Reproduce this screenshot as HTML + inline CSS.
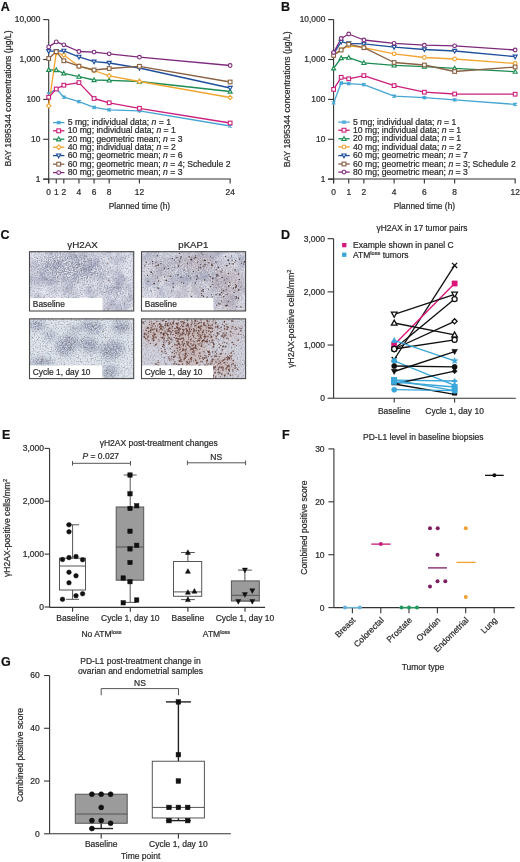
<!DOCTYPE html>
<html><head><meta charset="utf-8"><title>Figure</title>
<style>html,body{margin:0;padding:0;background:#fff;} svg{display:block;}</style>
</head><body>
<svg width="520" height="862" viewBox="0 0 520 862" font-family='"Liberation Sans", Arial, sans-serif'>
<defs>
<filter id="lowA" x="0" y="0" width="100%" height="100%" color-interpolation-filters="sRGB">
 <feTurbulence type="fractalNoise" baseFrequency="0.08" numOctaves="3" seed="2"/>
 <feColorMatrix type="matrix" values="0 0 0 0 0.63  0 0 0 0 0.64  0 0 0 0 0.74  1.6 0 0 0 -0.62"/>
</filter>
<filter id="lowC" x="0" y="0" width="100%" height="100%" color-interpolation-filters="sRGB">
 <feTurbulence type="fractalNoise" baseFrequency="0.07" numOctaves="3" seed="21"/>
 <feColorMatrix type="matrix" values="0 0 0 0 0.55  0 0 0 0 0.59  0 0 0 0 0.66  3.0 0 0 0 -1.35"/>
</filter>
<filter id="hiA" x="0" y="0" width="100%" height="100%" color-interpolation-filters="sRGB">
 <feTurbulence type="fractalNoise" baseFrequency="0.7" numOctaves="2" seed="4"/>
 <feColorMatrix type="matrix" values="0 0 0 0 0.55  0 0 0 0 0.565  0 0 0 0 0.64  2.1 0 0 0 -0.98"/>
 <feGaussianBlur stdDeviation="0.4"/>
</filter>
<filter id="nestC" x="0" y="0" width="100%" height="100%" color-interpolation-filters="sRGB">
 <feTurbulence type="fractalNoise" baseFrequency="0.8" numOctaves="2" seed="41" result="h"/>
 <feColorMatrix in="h" type="matrix" values="0 0 0 0 0.36  0 0 0 0 0.40  0 0 0 0 0.50  3.0 0 0 0 -1.20" result="sp"/>
 <feTurbulence type="fractalNoise" baseFrequency="0.07" numOctaves="3" seed="21" result="l"/>
 <feColorMatrix in="l" type="matrix" values="0 0 0 0 0  0 0 0 0 0  0 0 0 0 0  5 0 0 0 -2.3" result="m"/>
 <feComposite in="sp" in2="m" operator="in"/>
 <feGaussianBlur stdDeviation="0.3"/>
</filter>
<filter id="nestS" x="0" y="0" width="100%" height="100%" color-interpolation-filters="sRGB">
 <feTurbulence type="fractalNoise" baseFrequency="0.8" numOctaves="2" seed="43"/>
 <feColorMatrix type="matrix" values="0 0 0 0 0.40  0 0 0 0 0.43  0 0 0 0 0.54  3.0 0 0 0 -1.05"/>
 <feGaussianBlur stdDeviation="0.3"/>
</filter>
<filter id="bl3" x="-50%" y="-50%" width="200%" height="200%"><feGaussianBlur stdDeviation="2.6"/></filter>
<mask id="mC" maskUnits="userSpaceOnUse" x="29" y="318" width="106" height="62">
 <g filter="url(#bl3)" fill="#fff">
  <ellipse cx="37" cy="325" rx="8" ry="5"/>
  <ellipse cx="67" cy="345" rx="12" ry="9" transform="rotate(-30 67 345)"/>
  <ellipse cx="89" cy="345" rx="10" ry="7" transform="rotate(20 89 345)"/>
  <ellipse cx="112" cy="350" rx="12" ry="9" transform="rotate(-20 112 350)"/>
  <ellipse cx="92" cy="327" rx="11" ry="6" transform="rotate(10 92 327)"/>
  <ellipse cx="121" cy="327" rx="9" ry="6"/>
  <ellipse cx="42" cy="362" rx="12" ry="4"/>
  <ellipse cx="110" cy="372" rx="8" ry="6"/>
  <ellipse cx="50" cy="336" rx="6" ry="5" fill-opacity="0.7"/>
  <ellipse cx="75" cy="329" rx="6" ry="4" fill-opacity="0.7"/>
 </g>
</mask>
<mask id="mA" maskUnits="userSpaceOnUse" x="29" y="251" width="106" height="61">
 <g filter="url(#bl6)" fill="#fff">
  <ellipse cx="70" cy="268" rx="38" ry="15" fill-opacity="0.8"/>
  <ellipse cx="115" cy="290" rx="14" ry="10" fill-opacity="0.6"/>
 </g>
</mask>
<mask id="mB2" maskUnits="userSpaceOnUse" x="141" y="251" width="105" height="61">
 <g filter="url(#bl6)" fill="#fff">
  <ellipse cx="195" cy="268" rx="30" ry="14" fill-opacity="0.7"/>
  <ellipse cx="228" cy="290" rx="14" ry="16" fill-opacity="0.7"/>
  <ellipse cx="160" cy="265" rx="14" ry="10" fill-opacity="0.5"/>
 </g>
</mask>
<filter id="dotsB" x="0" y="0" width="100%" height="100%" color-interpolation-filters="sRGB">
 <feTurbulence type="fractalNoise" baseFrequency="0.85" numOctaves="1" seed="9"/>
 <feColorMatrix type="matrix" values="0 0 0 0 0.32  0 0 0 0 0.21  0 0 0 0 0.19  9 0 0 0 -4.85"/>
 <feGaussianBlur stdDeviation="0.35"/>
</filter>
<filter id="dotsD" x="0" y="0" width="100%" height="100%" color-interpolation-filters="sRGB">
 <feTurbulence type="fractalNoise" baseFrequency="0.85" numOctaves="1" seed="13"/>
 <feColorMatrix type="matrix" values="0 0 0 0 0.42  0 0 0 0 0.27  0 0 0 0 0.23  7 0 0 0 -3.85"/>
 <feGaussianBlur stdDeviation="0.35"/>
</filter>
<filter id="bl4" x="-50%" y="-50%" width="200%" height="200%"><feGaussianBlur stdDeviation="4"/></filter>
<filter id="bl6" x="-50%" y="-50%" width="200%" height="200%"><feGaussianBlur stdDeviation="6"/></filter>
<clipPath id="c1"><rect x="29.5" y="251.7" width="104.2" height="59.3"/></clipPath>
<mask id="mB" maskUnits="userSpaceOnUse" x="141" y="251" width="105" height="61">
 <g filter="url(#bl4)" fill="#fff">
  <ellipse cx="196" cy="262" rx="20" ry="9" fill-opacity="0.9"/>
  <ellipse cx="228" cy="282" rx="16" ry="15" fill-opacity="0.9"/>
  <ellipse cx="228" cy="305" rx="10" ry="8" fill-opacity="0.9"/>
  <ellipse cx="160" cy="270" rx="14" ry="12" fill-opacity="0.45"/>
  <ellipse cx="190" cy="290" rx="16" ry="8" fill-opacity="0.45"/>
 </g>
</mask>
<mask id="mD" maskUnits="userSpaceOnUse" x="141" y="318" width="105" height="61">
 <g filter="url(#bl4)" fill="#fff">
  <ellipse cx="155" cy="332" rx="13" ry="11"/>
  <ellipse cx="190" cy="345" rx="17" ry="24"/>
  <ellipse cx="178" cy="328" rx="10" ry="8"/>
  <ellipse cx="222" cy="365" rx="12" ry="10"/>
  <ellipse cx="205" cy="330" rx="10" ry="12"/>
  <ellipse cx="232" cy="333" rx="10" ry="10" fill-opacity="0.5"/>
 </g>
</mask>
</defs>
<style>text{stroke:#2b2b2b;stroke-width:0.22px;paint-order:stroke;}</style>
<rect width="520" height="862" fill="#ffffff"/>
<text x="0.70" y="11.00" font-size="12.5" text-anchor="start" font-weight="bold" fill="#111111" >A</text>
<line x1="48.70" y1="19.40" x2="48.70" y2="183.20" stroke="#333333" stroke-width="1.1" />
<line x1="43.20" y1="179.20" x2="48.70" y2="179.20" stroke="#333333" stroke-width="1.1" />
<text x="40.40" y="181.80" font-size="8.4" text-anchor="end" font-weight="normal" fill="#2b2b2b" >1</text>
<line x1="43.20" y1="139.30" x2="48.70" y2="139.30" stroke="#333333" stroke-width="1.1" />
<text x="40.40" y="141.90" font-size="8.4" text-anchor="end" font-weight="normal" fill="#2b2b2b" >10</text>
<line x1="43.20" y1="99.40" x2="48.70" y2="99.40" stroke="#333333" stroke-width="1.1" />
<text x="40.40" y="102.00" font-size="8.4" text-anchor="end" font-weight="normal" fill="#2b2b2b" >100</text>
<line x1="43.20" y1="59.50" x2="48.70" y2="59.50" stroke="#333333" stroke-width="1.1" />
<text x="40.40" y="62.10" font-size="8.4" text-anchor="end" font-weight="normal" fill="#2b2b2b" >1,000</text>
<line x1="43.20" y1="19.60" x2="48.70" y2="19.60" stroke="#333333" stroke-width="1.1" />
<text x="40.40" y="22.20" font-size="8.4" text-anchor="end" font-weight="normal" fill="#2b2b2b" >10,000</text>
<line x1="43.20" y1="179.00" x2="230.64" y2="179.00" stroke="#333333" stroke-width="1.1" />
<line x1="48.70" y1="179.00" x2="48.70" y2="183.40" stroke="#333333" stroke-width="1.1" />
<text x="48.70" y="194.50" font-size="8.4" text-anchor="middle" font-weight="normal" fill="#2b2b2b" >0</text>
<line x1="56.26" y1="179.00" x2="56.26" y2="183.40" stroke="#333333" stroke-width="1.1" />
<text x="56.26" y="194.50" font-size="8.4" text-anchor="middle" font-weight="normal" fill="#2b2b2b" >1</text>
<line x1="63.82" y1="179.00" x2="63.82" y2="183.40" stroke="#333333" stroke-width="1.1" />
<text x="63.82" y="194.50" font-size="8.4" text-anchor="middle" font-weight="normal" fill="#2b2b2b" >2</text>
<line x1="78.94" y1="179.00" x2="78.94" y2="183.40" stroke="#333333" stroke-width="1.1" />
<text x="78.94" y="194.50" font-size="8.4" text-anchor="middle" font-weight="normal" fill="#2b2b2b" >4</text>
<line x1="94.06" y1="179.00" x2="94.06" y2="183.40" stroke="#333333" stroke-width="1.1" />
<text x="94.06" y="194.50" font-size="8.4" text-anchor="middle" font-weight="normal" fill="#2b2b2b" >6</text>
<line x1="109.18" y1="179.00" x2="109.18" y2="183.40" stroke="#333333" stroke-width="1.1" />
<text x="109.18" y="194.50" font-size="8.4" text-anchor="middle" font-weight="normal" fill="#2b2b2b" >8</text>
<line x1="139.42" y1="179.00" x2="139.42" y2="183.40" stroke="#333333" stroke-width="1.1" />
<text x="139.42" y="194.50" font-size="8.4" text-anchor="middle" font-weight="normal" fill="#2b2b2b" >12</text>
<line x1="230.14" y1="179.00" x2="230.14" y2="183.40" stroke="#333333" stroke-width="1.1" />
<text x="230.14" y="194.50" font-size="8.4" text-anchor="middle" font-weight="normal" fill="#2b2b2b" >24</text>
<text x="139.42" y="209.30" font-size="8.4" text-anchor="middle" font-weight="normal" fill="#2b2b2b" >Planned time (h)</text>
<text x="0.00" y="0.00" font-size="8.65" text-anchor="middle" font-weight="normal" fill="#2b2b2b" transform="translate(11.00,98.5) rotate(-90)">BAY 1895344 concentrations (μg/L)</text>
<polyline points="48.70,94.00 56.26,88.70 63.82,97.20 78.94,101.60 94.06,107.30 109.18,109.80 139.42,110.80 230.14,126.00" fill="none" stroke="#45a6d3" stroke-width="1.3" stroke-linejoin="round"/>
<polyline points="48.70,97.20 56.26,89.00 63.82,85.20 78.94,82.60 94.06,98.50 109.18,102.80 139.42,108.30 230.14,123.00" fill="none" stroke="#cc1f7d" stroke-width="1.3" stroke-linejoin="round"/>
<polyline points="48.70,69.80 56.26,70.00 63.82,73.30 78.94,76.70 94.06,80.00 109.18,80.40 139.42,81.50 230.14,91.50" fill="none" stroke="#1b8c52" stroke-width="1.3" stroke-linejoin="round"/>
<polyline points="48.70,105.80 56.26,52.70 63.82,55.00 78.94,66.20 94.06,70.50 109.18,75.80 139.42,81.50 230.14,97.50" fill="none" stroke="#f2a531" stroke-width="1.3" stroke-linejoin="round"/>
<polyline points="48.70,51.20 56.26,51.20 63.82,50.80 78.94,56.90 94.06,61.70 109.18,63.00 139.42,68.00 230.14,88.00" fill="none" stroke="#1f4f9c" stroke-width="1.3" stroke-linejoin="round"/>
<polyline points="48.70,58.50 56.26,51.70 63.82,60.80 78.94,66.20 94.06,70.00 109.18,68.50 139.42,66.30 230.14,82.00" fill="none" stroke="#8a6143" stroke-width="1.3" stroke-linejoin="round"/>
<polyline points="48.70,46.90 56.26,41.90 63.82,44.80 78.94,51.50 94.06,52.10 109.18,53.80 139.42,57.20 230.14,65.50" fill="none" stroke="#7e2a7c" stroke-width="1.3" stroke-linejoin="round"/>
<path d="M46.85,92.52L50.55,95.48M50.55,92.52L46.85,95.48M48.70,92.15L48.70,95.85" stroke="#45a6d3" stroke-width="1.1" fill="none"/>
<path d="M54.41,87.22L58.11,90.18M58.11,87.22L54.41,90.18M56.26,86.85L56.26,90.55" stroke="#45a6d3" stroke-width="1.1" fill="none"/>
<path d="M61.97,95.72L65.67,98.68M65.67,95.72L61.97,98.68M63.82,95.35L63.82,99.05" stroke="#45a6d3" stroke-width="1.1" fill="none"/>
<path d="M77.09,100.12L80.79,103.08M80.79,100.12L77.09,103.08M78.94,99.75L78.94,103.45" stroke="#45a6d3" stroke-width="1.1" fill="none"/>
<path d="M92.21,105.82L95.91,108.78M95.91,105.82L92.21,108.78M94.06,105.45L94.06,109.15" stroke="#45a6d3" stroke-width="1.1" fill="none"/>
<path d="M107.33,108.32L111.03,111.28M111.03,108.32L107.33,111.28M109.18,107.95L109.18,111.65" stroke="#45a6d3" stroke-width="1.1" fill="none"/>
<path d="M137.57,109.32L141.27,112.28M141.27,109.32L137.57,112.28M139.42,108.95L139.42,112.65" stroke="#45a6d3" stroke-width="1.1" fill="none"/>
<path d="M228.29,124.52L231.99,127.48M231.99,124.52L228.29,127.48M230.14,124.15L230.14,127.85" stroke="#45a6d3" stroke-width="1.1" fill="none"/>
<rect x="46.85" y="95.35" width="3.70" height="3.70" fill="white" stroke="#cc1f7d" stroke-width="1.1"/>
<rect x="54.41" y="87.15" width="3.70" height="3.70" fill="white" stroke="#cc1f7d" stroke-width="1.1"/>
<rect x="61.97" y="83.35" width="3.70" height="3.70" fill="white" stroke="#cc1f7d" stroke-width="1.1"/>
<rect x="77.09" y="80.75" width="3.70" height="3.70" fill="white" stroke="#cc1f7d" stroke-width="1.1"/>
<rect x="92.21" y="96.65" width="3.70" height="3.70" fill="white" stroke="#cc1f7d" stroke-width="1.1"/>
<rect x="107.33" y="100.95" width="3.70" height="3.70" fill="white" stroke="#cc1f7d" stroke-width="1.1"/>
<rect x="137.57" y="106.45" width="3.70" height="3.70" fill="white" stroke="#cc1f7d" stroke-width="1.1"/>
<rect x="228.29" y="121.15" width="3.70" height="3.70" fill="white" stroke="#cc1f7d" stroke-width="1.1"/>
<polygon points="48.70,67.67 50.73,71.40 46.67,71.40" fill="white" stroke="#1b8c52" stroke-width="1.1" stroke-linejoin="miter"/>
<polygon points="56.26,67.87 58.30,71.60 54.23,71.60" fill="white" stroke="#1b8c52" stroke-width="1.1" stroke-linejoin="miter"/>
<polygon points="63.82,71.17 65.86,74.90 61.78,74.90" fill="white" stroke="#1b8c52" stroke-width="1.1" stroke-linejoin="miter"/>
<polygon points="78.94,74.57 80.97,78.30 76.91,78.30" fill="white" stroke="#1b8c52" stroke-width="1.1" stroke-linejoin="miter"/>
<polygon points="94.06,77.87 96.09,81.60 92.03,81.60" fill="white" stroke="#1b8c52" stroke-width="1.1" stroke-linejoin="miter"/>
<polygon points="109.18,78.27 111.22,82.00 107.15,82.00" fill="white" stroke="#1b8c52" stroke-width="1.1" stroke-linejoin="miter"/>
<polygon points="139.42,79.37 141.46,83.10 137.39,83.10" fill="white" stroke="#1b8c52" stroke-width="1.1" stroke-linejoin="miter"/>
<polygon points="230.14,89.37 232.17,93.10 228.10,93.10" fill="white" stroke="#1b8c52" stroke-width="1.1" stroke-linejoin="miter"/>
<polygon points="48.70,103.58 50.92,105.80 48.70,108.02 46.48,105.80" fill="white" stroke="#f2a531" stroke-width="1.1"/>
<polygon points="56.26,50.48 58.48,52.70 56.26,54.92 54.04,52.70" fill="white" stroke="#f2a531" stroke-width="1.1"/>
<polygon points="63.82,52.78 66.04,55.00 63.82,57.22 61.60,55.00" fill="white" stroke="#f2a531" stroke-width="1.1"/>
<polygon points="78.94,63.98 81.16,66.20 78.94,68.42 76.72,66.20" fill="white" stroke="#f2a531" stroke-width="1.1"/>
<polygon points="94.06,68.28 96.28,70.50 94.06,72.72 91.84,70.50" fill="white" stroke="#f2a531" stroke-width="1.1"/>
<polygon points="109.18,73.58 111.40,75.80 109.18,78.02 106.96,75.80" fill="white" stroke="#f2a531" stroke-width="1.1"/>
<polygon points="139.42,79.28 141.64,81.50 139.42,83.72 137.20,81.50" fill="white" stroke="#f2a531" stroke-width="1.1"/>
<polygon points="230.14,95.28 232.36,97.50 230.14,99.72 227.92,97.50" fill="white" stroke="#f2a531" stroke-width="1.1"/>
<polygon points="48.70,53.33 50.73,49.60 46.67,49.60" fill="white" stroke="#1f4f9c" stroke-width="1.1" stroke-linejoin="miter"/>
<polygon points="56.26,53.33 58.30,49.60 54.23,49.60" fill="white" stroke="#1f4f9c" stroke-width="1.1" stroke-linejoin="miter"/>
<polygon points="63.82,52.93 65.86,49.20 61.78,49.20" fill="white" stroke="#1f4f9c" stroke-width="1.1" stroke-linejoin="miter"/>
<polygon points="78.94,59.03 80.97,55.30 76.91,55.30" fill="white" stroke="#1f4f9c" stroke-width="1.1" stroke-linejoin="miter"/>
<polygon points="94.06,63.83 96.09,60.10 92.03,60.10" fill="white" stroke="#1f4f9c" stroke-width="1.1" stroke-linejoin="miter"/>
<polygon points="109.18,65.13 111.22,61.40 107.15,61.40" fill="white" stroke="#1f4f9c" stroke-width="1.1" stroke-linejoin="miter"/>
<polygon points="139.42,70.13 141.46,66.40 137.39,66.40" fill="white" stroke="#1f4f9c" stroke-width="1.1" stroke-linejoin="miter"/>
<polygon points="230.14,90.13 232.17,86.40 228.10,86.40" fill="white" stroke="#1f4f9c" stroke-width="1.1" stroke-linejoin="miter"/>
<rect x="46.85" y="56.65" width="3.70" height="3.70" fill="white" stroke="#8a6143" stroke-width="1.1"/>
<rect x="54.41" y="49.85" width="3.70" height="3.70" fill="white" stroke="#8a6143" stroke-width="1.1"/>
<rect x="61.97" y="58.95" width="3.70" height="3.70" fill="white" stroke="#8a6143" stroke-width="1.1"/>
<rect x="77.09" y="64.35" width="3.70" height="3.70" fill="white" stroke="#8a6143" stroke-width="1.1"/>
<rect x="92.21" y="68.15" width="3.70" height="3.70" fill="white" stroke="#8a6143" stroke-width="1.1"/>
<rect x="107.33" y="66.65" width="3.70" height="3.70" fill="white" stroke="#8a6143" stroke-width="1.1"/>
<rect x="137.57" y="64.45" width="3.70" height="3.70" fill="white" stroke="#8a6143" stroke-width="1.1"/>
<rect x="228.29" y="80.15" width="3.70" height="3.70" fill="white" stroke="#8a6143" stroke-width="1.1"/>
<circle cx="48.70" cy="46.90" r="1.85" fill="white" stroke="#7e2a7c" stroke-width="1.1"/>
<circle cx="56.26" cy="41.90" r="1.85" fill="white" stroke="#7e2a7c" stroke-width="1.1"/>
<circle cx="63.82" cy="44.80" r="1.85" fill="white" stroke="#7e2a7c" stroke-width="1.1"/>
<circle cx="78.94" cy="51.50" r="1.85" fill="white" stroke="#7e2a7c" stroke-width="1.1"/>
<circle cx="94.06" cy="52.10" r="1.85" fill="white" stroke="#7e2a7c" stroke-width="1.1"/>
<circle cx="109.18" cy="53.80" r="1.85" fill="white" stroke="#7e2a7c" stroke-width="1.1"/>
<circle cx="139.42" cy="57.20" r="1.85" fill="white" stroke="#7e2a7c" stroke-width="1.1"/>
<circle cx="230.14" cy="65.50" r="1.85" fill="white" stroke="#7e2a7c" stroke-width="1.1"/>
<line x1="53.00" y1="122.60" x2="64.40" y2="122.60" stroke="#45a6d3" stroke-width="1.3" />
<path d="M56.80,121.08L60.60,124.12M60.60,121.08L56.80,124.12M58.70,120.70L58.70,124.50" stroke="#45a6d3" stroke-width="1.1" fill="none"/>
<text x="67.70" y="125.20" font-size="8.65" text-anchor="start" font-weight="normal" fill="#2b2b2b" >5 mg; individual data; <tspan font-style="italic">n</tspan> = 1</text>
<line x1="53.00" y1="130.80" x2="64.40" y2="130.80" stroke="#cc1f7d" stroke-width="1.3" />
<rect x="56.80" y="128.90" width="3.80" height="3.80" fill="white" stroke="#cc1f7d" stroke-width="1.1"/>
<text x="67.70" y="133.40" font-size="8.65" text-anchor="start" font-weight="normal" fill="#2b2b2b" >10 mg; individual data; <tspan font-style="italic">n</tspan> = 1</text>
<line x1="53.00" y1="139.20" x2="64.40" y2="139.20" stroke="#1b8c52" stroke-width="1.3" />
<polygon points="58.70,137.01 60.79,140.84 56.61,140.84" fill="white" stroke="#1b8c52" stroke-width="1.1" stroke-linejoin="miter"/>
<text x="67.70" y="141.80" font-size="8.65" text-anchor="start" font-weight="normal" fill="#2b2b2b" >20 mg; geometric mean; <tspan font-style="italic">n</tspan> = 3</text>
<line x1="53.00" y1="147.20" x2="64.40" y2="147.20" stroke="#f2a531" stroke-width="1.3" />
<polygon points="58.70,144.92 60.98,147.20 58.70,149.48 56.42,147.20" fill="white" stroke="#f2a531" stroke-width="1.1"/>
<text x="67.70" y="149.80" font-size="8.65" text-anchor="start" font-weight="normal" fill="#2b2b2b" >40 mg; individual data; <tspan font-style="italic">n</tspan> = 2</text>
<line x1="53.00" y1="155.60" x2="64.40" y2="155.60" stroke="#1f4f9c" stroke-width="1.3" />
<polygon points="58.70,157.78 60.79,153.96 56.61,153.96" fill="white" stroke="#1f4f9c" stroke-width="1.1" stroke-linejoin="miter"/>
<text x="67.70" y="158.20" font-size="8.65" text-anchor="start" font-weight="normal" fill="#2b2b2b" >60 mg; geometric mean; <tspan font-style="italic">n</tspan> = 6</text>
<line x1="53.00" y1="164.20" x2="64.40" y2="164.20" stroke="#8a6143" stroke-width="1.3" />
<rect x="56.80" y="162.30" width="3.80" height="3.80" fill="white" stroke="#8a6143" stroke-width="1.1"/>
<text x="67.70" y="166.80" font-size="8.65" text-anchor="start" font-weight="normal" fill="#2b2b2b" >60 mg; geometric mean; <tspan font-style="italic">n</tspan> = 4; Schedule 2</text>
<line x1="53.00" y1="172.60" x2="64.40" y2="172.60" stroke="#7e2a7c" stroke-width="1.3" />
<circle cx="58.70" cy="172.60" r="1.90" fill="white" stroke="#7e2a7c" stroke-width="1.1"/>
<text x="67.70" y="175.20" font-size="8.65" text-anchor="start" font-weight="normal" fill="#2b2b2b" >80 mg; geometric mean; <tspan font-style="italic">n</tspan> = 3</text>
<text x="280.90" y="11.00" font-size="12.5" text-anchor="start" font-weight="bold" fill="#111111" >B</text>
<line x1="333.60" y1="19.40" x2="333.60" y2="183.20" stroke="#333333" stroke-width="1.1" />
<line x1="328.10" y1="179.20" x2="333.60" y2="179.20" stroke="#333333" stroke-width="1.1" />
<text x="325.30" y="181.80" font-size="8.4" text-anchor="end" font-weight="normal" fill="#2b2b2b" >1</text>
<line x1="328.10" y1="139.30" x2="333.60" y2="139.30" stroke="#333333" stroke-width="1.1" />
<text x="325.30" y="141.90" font-size="8.4" text-anchor="end" font-weight="normal" fill="#2b2b2b" >10</text>
<line x1="328.10" y1="99.40" x2="333.60" y2="99.40" stroke="#333333" stroke-width="1.1" />
<text x="325.30" y="102.00" font-size="8.4" text-anchor="end" font-weight="normal" fill="#2b2b2b" >100</text>
<line x1="328.10" y1="59.50" x2="333.60" y2="59.50" stroke="#333333" stroke-width="1.1" />
<text x="325.30" y="62.10" font-size="8.4" text-anchor="end" font-weight="normal" fill="#2b2b2b" >1,000</text>
<line x1="328.10" y1="19.60" x2="333.60" y2="19.60" stroke="#333333" stroke-width="1.1" />
<text x="325.30" y="22.20" font-size="8.4" text-anchor="end" font-weight="normal" fill="#2b2b2b" >10,000</text>
<line x1="328.10" y1="179.00" x2="515.66" y2="179.00" stroke="#333333" stroke-width="1.1" />
<line x1="333.60" y1="179.00" x2="333.60" y2="183.40" stroke="#333333" stroke-width="1.1" />
<text x="333.60" y="194.50" font-size="8.4" text-anchor="middle" font-weight="normal" fill="#2b2b2b" >0</text>
<line x1="348.73" y1="179.00" x2="348.73" y2="183.40" stroke="#333333" stroke-width="1.1" />
<text x="348.73" y="194.50" font-size="8.4" text-anchor="middle" font-weight="normal" fill="#2b2b2b" >1</text>
<line x1="363.86" y1="179.00" x2="363.86" y2="183.40" stroke="#333333" stroke-width="1.1" />
<text x="363.86" y="194.50" font-size="8.4" text-anchor="middle" font-weight="normal" fill="#2b2b2b" >2</text>
<line x1="394.12" y1="179.00" x2="394.12" y2="183.40" stroke="#333333" stroke-width="1.1" />
<text x="394.12" y="194.50" font-size="8.4" text-anchor="middle" font-weight="normal" fill="#2b2b2b" >4</text>
<line x1="424.38" y1="179.00" x2="424.38" y2="183.40" stroke="#333333" stroke-width="1.1" />
<text x="424.38" y="194.50" font-size="8.4" text-anchor="middle" font-weight="normal" fill="#2b2b2b" >6</text>
<line x1="454.64" y1="179.00" x2="454.64" y2="183.40" stroke="#333333" stroke-width="1.1" />
<text x="454.64" y="194.50" font-size="8.4" text-anchor="middle" font-weight="normal" fill="#2b2b2b" >8</text>
<line x1="515.16" y1="179.00" x2="515.16" y2="183.40" stroke="#333333" stroke-width="1.1" />
<text x="515.16" y="194.50" font-size="8.4" text-anchor="middle" font-weight="normal" fill="#2b2b2b" >12</text>
<text x="424.38" y="209.30" font-size="8.4" text-anchor="middle" font-weight="normal" fill="#2b2b2b" >Planned time (h)</text>
<text x="0.00" y="0.00" font-size="8.65" text-anchor="middle" font-weight="normal" fill="#2b2b2b" transform="translate(290.00,99.3) rotate(-90)">BAY 1895344 concentrations (μg/L)</text>
<polyline points="333.60,102.90 341.17,83.00 348.73,83.60 363.86,84.60 394.12,96.20 424.38,97.70 454.64,99.80 515.16,104.40" fill="none" stroke="#45a6d3" stroke-width="1.3" stroke-linejoin="round"/>
<polyline points="333.60,89.40 341.17,77.30 348.73,78.80 363.86,75.60 394.12,85.60 424.38,92.20 454.64,94.00 515.16,94.20" fill="none" stroke="#cc1f7d" stroke-width="1.3" stroke-linejoin="round"/>
<polyline points="333.60,68.30 341.17,58.00 348.73,57.70 363.86,62.90 394.12,65.40 424.38,66.60 454.64,68.30 515.16,71.70" fill="none" stroke="#1b8c52" stroke-width="1.3" stroke-linejoin="round"/>
<polyline points="333.60,55.00 341.17,49.60 348.73,45.80 363.86,47.70 394.12,53.80 424.38,57.50 454.64,59.00 515.16,63.50" fill="none" stroke="#f2a531" stroke-width="1.3" stroke-linejoin="round"/>
<polyline points="333.60,53.80 341.17,41.90 348.73,43.30 363.86,43.80 394.12,47.10 424.38,49.50 454.64,51.00 515.16,56.70" fill="none" stroke="#1f4f9c" stroke-width="1.3" stroke-linejoin="round"/>
<polyline points="333.60,55.40 341.17,50.00 348.73,44.20 363.86,47.70 394.12,62.50 424.38,65.00 454.64,71.50 515.16,67.00" fill="none" stroke="#8a6143" stroke-width="1.3" stroke-linejoin="round"/>
<polyline points="333.60,52.50 341.17,38.50 348.73,34.00 363.86,40.00 394.12,43.30 424.38,45.20 454.64,45.80 515.16,50.00" fill="none" stroke="#7e2a7c" stroke-width="1.3" stroke-linejoin="round"/>
<path d="M331.75,101.42L335.45,104.38M335.45,101.42L331.75,104.38M333.60,101.05L333.60,104.75" stroke="#45a6d3" stroke-width="1.1" fill="none"/>
<path d="M339.31,81.52L343.02,84.48M343.02,81.52L339.31,84.48M341.17,81.15L341.17,84.85" stroke="#45a6d3" stroke-width="1.1" fill="none"/>
<path d="M346.88,82.12L350.58,85.08M350.58,82.12L346.88,85.08M348.73,81.75L348.73,85.45" stroke="#45a6d3" stroke-width="1.1" fill="none"/>
<path d="M362.01,83.12L365.71,86.08M365.71,83.12L362.01,86.08M363.86,82.75L363.86,86.45" stroke="#45a6d3" stroke-width="1.1" fill="none"/>
<path d="M392.27,94.72L395.97,97.68M395.97,94.72L392.27,97.68M394.12,94.35L394.12,98.05" stroke="#45a6d3" stroke-width="1.1" fill="none"/>
<path d="M422.53,96.22L426.23,99.18M426.23,96.22L422.53,99.18M424.38,95.85L424.38,99.55" stroke="#45a6d3" stroke-width="1.1" fill="none"/>
<path d="M452.79,98.32L456.49,101.28M456.49,98.32L452.79,101.28M454.64,97.95L454.64,101.65" stroke="#45a6d3" stroke-width="1.1" fill="none"/>
<path d="M513.31,102.92L517.01,105.88M517.01,102.92L513.31,105.88M515.16,102.55L515.16,106.25" stroke="#45a6d3" stroke-width="1.1" fill="none"/>
<rect x="331.75" y="87.55" width="3.70" height="3.70" fill="white" stroke="#cc1f7d" stroke-width="1.1"/>
<rect x="339.31" y="75.45" width="3.70" height="3.70" fill="white" stroke="#cc1f7d" stroke-width="1.1"/>
<rect x="346.88" y="76.95" width="3.70" height="3.70" fill="white" stroke="#cc1f7d" stroke-width="1.1"/>
<rect x="362.01" y="73.75" width="3.70" height="3.70" fill="white" stroke="#cc1f7d" stroke-width="1.1"/>
<rect x="392.27" y="83.75" width="3.70" height="3.70" fill="white" stroke="#cc1f7d" stroke-width="1.1"/>
<rect x="422.53" y="90.35" width="3.70" height="3.70" fill="white" stroke="#cc1f7d" stroke-width="1.1"/>
<rect x="452.79" y="92.15" width="3.70" height="3.70" fill="white" stroke="#cc1f7d" stroke-width="1.1"/>
<rect x="513.31" y="92.35" width="3.70" height="3.70" fill="white" stroke="#cc1f7d" stroke-width="1.1"/>
<polygon points="333.60,66.17 335.64,69.90 331.56,69.90" fill="white" stroke="#1b8c52" stroke-width="1.1" stroke-linejoin="miter"/>
<polygon points="341.17,55.87 343.20,59.60 339.13,59.60" fill="white" stroke="#1b8c52" stroke-width="1.1" stroke-linejoin="miter"/>
<polygon points="348.73,55.57 350.77,59.30 346.69,59.30" fill="white" stroke="#1b8c52" stroke-width="1.1" stroke-linejoin="miter"/>
<polygon points="363.86,60.77 365.90,64.50 361.82,64.50" fill="white" stroke="#1b8c52" stroke-width="1.1" stroke-linejoin="miter"/>
<polygon points="394.12,63.27 396.16,67.00 392.08,67.00" fill="white" stroke="#1b8c52" stroke-width="1.1" stroke-linejoin="miter"/>
<polygon points="424.38,64.47 426.42,68.20 422.34,68.20" fill="white" stroke="#1b8c52" stroke-width="1.1" stroke-linejoin="miter"/>
<polygon points="454.64,66.17 456.68,69.90 452.61,69.90" fill="white" stroke="#1b8c52" stroke-width="1.1" stroke-linejoin="miter"/>
<polygon points="515.16,69.57 517.20,73.30 513.13,73.30" fill="white" stroke="#1b8c52" stroke-width="1.1" stroke-linejoin="miter"/>
<circle cx="333.60" cy="55.00" r="1.85" fill="white" stroke="#f2a531" stroke-width="1.1"/>
<circle cx="341.17" cy="49.60" r="1.85" fill="white" stroke="#f2a531" stroke-width="1.1"/>
<circle cx="348.73" cy="45.80" r="1.85" fill="white" stroke="#f2a531" stroke-width="1.1"/>
<circle cx="363.86" cy="47.70" r="1.85" fill="white" stroke="#f2a531" stroke-width="1.1"/>
<circle cx="394.12" cy="53.80" r="1.85" fill="white" stroke="#f2a531" stroke-width="1.1"/>
<circle cx="424.38" cy="57.50" r="1.85" fill="white" stroke="#f2a531" stroke-width="1.1"/>
<circle cx="454.64" cy="59.00" r="1.85" fill="white" stroke="#f2a531" stroke-width="1.1"/>
<circle cx="515.16" cy="63.50" r="1.85" fill="white" stroke="#f2a531" stroke-width="1.1"/>
<polygon points="333.60,55.93 335.64,52.20 331.56,52.20" fill="white" stroke="#1f4f9c" stroke-width="1.1" stroke-linejoin="miter"/>
<polygon points="341.17,44.03 343.20,40.30 339.13,40.30" fill="white" stroke="#1f4f9c" stroke-width="1.1" stroke-linejoin="miter"/>
<polygon points="348.73,45.43 350.77,41.70 346.69,41.70" fill="white" stroke="#1f4f9c" stroke-width="1.1" stroke-linejoin="miter"/>
<polygon points="363.86,45.93 365.90,42.20 361.82,42.20" fill="white" stroke="#1f4f9c" stroke-width="1.1" stroke-linejoin="miter"/>
<polygon points="394.12,49.23 396.16,45.50 392.08,45.50" fill="white" stroke="#1f4f9c" stroke-width="1.1" stroke-linejoin="miter"/>
<polygon points="424.38,51.63 426.42,47.90 422.34,47.90" fill="white" stroke="#1f4f9c" stroke-width="1.1" stroke-linejoin="miter"/>
<polygon points="454.64,53.13 456.68,49.40 452.61,49.40" fill="white" stroke="#1f4f9c" stroke-width="1.1" stroke-linejoin="miter"/>
<polygon points="515.16,58.83 517.20,55.10 513.13,55.10" fill="white" stroke="#1f4f9c" stroke-width="1.1" stroke-linejoin="miter"/>
<rect x="331.75" y="53.55" width="3.70" height="3.70" fill="white" stroke="#8a6143" stroke-width="1.1"/>
<rect x="339.31" y="48.15" width="3.70" height="3.70" fill="white" stroke="#8a6143" stroke-width="1.1"/>
<rect x="346.88" y="42.35" width="3.70" height="3.70" fill="white" stroke="#8a6143" stroke-width="1.1"/>
<rect x="362.01" y="45.85" width="3.70" height="3.70" fill="white" stroke="#8a6143" stroke-width="1.1"/>
<rect x="392.27" y="60.65" width="3.70" height="3.70" fill="white" stroke="#8a6143" stroke-width="1.1"/>
<rect x="422.53" y="63.15" width="3.70" height="3.70" fill="white" stroke="#8a6143" stroke-width="1.1"/>
<rect x="452.79" y="69.65" width="3.70" height="3.70" fill="white" stroke="#8a6143" stroke-width="1.1"/>
<rect x="513.31" y="65.15" width="3.70" height="3.70" fill="white" stroke="#8a6143" stroke-width="1.1"/>
<circle cx="333.60" cy="52.50" r="1.85" fill="white" stroke="#7e2a7c" stroke-width="1.1"/>
<circle cx="341.17" cy="38.50" r="1.85" fill="white" stroke="#7e2a7c" stroke-width="1.1"/>
<circle cx="348.73" cy="34.00" r="1.85" fill="white" stroke="#7e2a7c" stroke-width="1.1"/>
<circle cx="363.86" cy="40.00" r="1.85" fill="white" stroke="#7e2a7c" stroke-width="1.1"/>
<circle cx="394.12" cy="43.30" r="1.85" fill="white" stroke="#7e2a7c" stroke-width="1.1"/>
<circle cx="424.38" cy="45.20" r="1.85" fill="white" stroke="#7e2a7c" stroke-width="1.1"/>
<circle cx="454.64" cy="45.80" r="1.85" fill="white" stroke="#7e2a7c" stroke-width="1.1"/>
<circle cx="515.16" cy="50.00" r="1.85" fill="white" stroke="#7e2a7c" stroke-width="1.1"/>
<line x1="338.30" y1="122.10" x2="349.70" y2="122.10" stroke="#45a6d3" stroke-width="1.3" />
<path d="M342.10,120.58L345.90,123.62M345.90,120.58L342.10,123.62M344.00,120.20L344.00,124.00" stroke="#45a6d3" stroke-width="1.1" fill="none"/>
<text x="353.00" y="124.70" font-size="8.65" text-anchor="start" font-weight="normal" fill="#2b2b2b" >5 mg; individual data; <tspan font-style="italic">n</tspan> = 1</text>
<line x1="338.30" y1="130.20" x2="349.70" y2="130.20" stroke="#cc1f7d" stroke-width="1.3" />
<rect x="342.10" y="128.30" width="3.80" height="3.80" fill="white" stroke="#cc1f7d" stroke-width="1.1"/>
<text x="353.00" y="132.80" font-size="8.65" text-anchor="start" font-weight="normal" fill="#2b2b2b" >10 mg; individual data; <tspan font-style="italic">n</tspan> = 1</text>
<line x1="338.30" y1="138.80" x2="349.70" y2="138.80" stroke="#1b8c52" stroke-width="1.3" />
<polygon points="344.00,136.62 346.09,140.44 341.91,140.44" fill="white" stroke="#1b8c52" stroke-width="1.1" stroke-linejoin="miter"/>
<text x="353.00" y="141.40" font-size="8.65" text-anchor="start" font-weight="normal" fill="#2b2b2b" >20 mg; individual data; <tspan font-style="italic">n</tspan> = 1</text>
<line x1="338.30" y1="146.90" x2="349.70" y2="146.90" stroke="#f2a531" stroke-width="1.3" />
<circle cx="344.00" cy="146.90" r="1.90" fill="white" stroke="#f2a531" stroke-width="1.1"/>
<text x="353.00" y="149.50" font-size="8.65" text-anchor="start" font-weight="normal" fill="#2b2b2b" >40 mg; individual data; <tspan font-style="italic">n</tspan> = 2</text>
<line x1="338.30" y1="155.60" x2="349.70" y2="155.60" stroke="#1f4f9c" stroke-width="1.3" />
<polygon points="344.00,157.78 346.09,153.96 341.91,153.96" fill="white" stroke="#1f4f9c" stroke-width="1.1" stroke-linejoin="miter"/>
<text x="353.00" y="158.20" font-size="8.65" text-anchor="start" font-weight="normal" fill="#2b2b2b" >60 mg; geometric mean; <tspan font-style="italic">n</tspan> = 7</text>
<line x1="338.30" y1="164.00" x2="349.70" y2="164.00" stroke="#8a6143" stroke-width="1.3" />
<rect x="342.10" y="162.10" width="3.80" height="3.80" fill="white" stroke="#8a6143" stroke-width="1.1"/>
<text x="353.00" y="166.60" font-size="8.65" text-anchor="start" font-weight="normal" fill="#2b2b2b" >60 mg; geometric mean; <tspan font-style="italic">n</tspan> = 3; Schedule 2</text>
<line x1="338.30" y1="172.10" x2="349.70" y2="172.10" stroke="#7e2a7c" stroke-width="1.3" />
<circle cx="344.00" cy="172.10" r="1.90" fill="white" stroke="#7e2a7c" stroke-width="1.1"/>
<text x="353.00" y="174.70" font-size="8.65" text-anchor="start" font-weight="normal" fill="#2b2b2b" >80 mg; geometric mean; <tspan font-style="italic">n</tspan> = 3</text>
<text x="0.60" y="238.90" font-size="12.5" text-anchor="start" font-weight="bold" fill="#111111" >C</text>
<text x="82.60" y="247.60" font-size="9.8" text-anchor="middle" font-weight="normal" fill="#2b2b2b" >γH2AX</text>
<text x="193.30" y="247.60" font-size="9.6" text-anchor="middle" font-weight="normal" fill="#2b2b2b" >pKAP1</text>
<rect x="29.5" y="251.7" width="104.2" height="59.3" fill="#e5e6ef"/>
<rect x="29.5" y="251.7" width="104.2" height="59.3" filter="url(#lowA)"/>
<rect x="29.5" y="251.7" width="104.2" height="59.3" filter="url(#hiA)"/>
<rect x="29.5" y="251.7" width="104.2" height="59.3" filter="url(#nestS)" mask="url(#mA)" opacity="0.75"/>
<rect x="141.5" y="251.7" width="104.1" height="59.3" fill="#e0e1ea"/>
<rect x="141.5" y="251.7" width="104.1" height="59.3" filter="url(#lowA)"/>
<rect x="141.5" y="251.7" width="104.1" height="59.3" filter="url(#hiA)"/>
<rect x="141.5" y="251.7" width="104.1" height="59.3" filter="url(#nestS)" mask="url(#mB2)" opacity="0.7"/>
<rect x="141.5" y="251.7" width="104.1" height="59.3" fill="#c9a9a4" fill-opacity="0.3" mask="url(#mB)"/>
<rect x="29.5" y="318.9" width="104.2" height="59.7" fill="#e0e6ec"/>
<rect x="29.5" y="318.9" width="104.2" height="59.7" fill="#a9b0c6" fill-opacity="0.4" mask="url(#mC)"/>
<rect x="29.5" y="318.9" width="104.2" height="59.7" filter="url(#hiA)"/>
<rect x="29.5" y="318.9" width="104.2" height="59.7" filter="url(#nestS)" mask="url(#mC)" opacity="0.6"/>
<rect x="141.5" y="318.9" width="104.1" height="59.7" fill="#d4d4de"/>
<rect x="141.5" y="318.9" width="104.1" height="59.7" filter="url(#hiA)"/>
<rect x="141.5" y="318.9" width="104.1" height="59.7" fill="#c4a49c" fill-opacity="0.5" mask="url(#mD)"/>
<path d="M97.4 288.0h0M64.1 269.6h0M120.8 287.3h0M90.3 260.6h0M50.8 279.9h0M124.3 303.2h0M58.1 277.0h0" stroke="#6b4a40" stroke-opacity="0.6" stroke-width="0.75" stroke-linecap="round" fill="none"/>
<path d="M84.5 255.9h0M116.5 293.3h0M128.6 301.4h0M110.2 268.1h0M129.2 296.2h0M90.1 266.5h0M76.0 256.0h0M58.7 262.3h0M62.0 298.2h0M58.2 272.4h0M80.8 307.3h0M43.6 297.5h0M42.9 282.0h0M84.7 277.7h0M71.6 292.0h0M83.1 285.3h0M71.9 263.8h0M46.7 279.7h0M31.7 266.6h0M77.1 264.3h0M77.0 267.6h0M73.8 267.4h0M104.7 292.5h0M67.8 273.5h0" stroke="#6b4a40" stroke-opacity="0.6" stroke-width="1.0" stroke-linecap="round" fill="none"/>
<path d="M91.5 269.4h0M117.8 287.9h0M89.0 260.1h0M90.1 287.6h0M75.5 300.9h0M62.8 260.4h0M76.7 256.8h0M54.7 260.6h0M111.6 304.8h0M109.1 280.6h0M84.3 269.2h0M78.8 259.8h0M66.8 288.3h0M84.6 261.7h0M37.5 258.6h0M125.4 258.0h0M78.2 282.2h0M108.5 309.1h0M67.8 269.0h0M114.1 287.3h0M94.4 273.2h0M85.9 256.7h0M79.4 264.7h0M116.3 256.8h0M74.2 273.8h0M97.1 298.9h0M111.2 257.3h0" stroke="#6b4a40" stroke-opacity="0.6" stroke-width="1.25" stroke-linecap="round" fill="none"/>
<path d="M81.0 270.7h0M107.6 263.5h0" stroke="#6b4a40" stroke-opacity="0.6" stroke-width="1.5" stroke-linecap="round" fill="none"/>
<path d="M109.4 339.6h0M116.4 327.2h0M71.1 349.7h0M107.8 344.9h0M79.2 319.9h0" stroke="#6b4a40" stroke-opacity="0.6" stroke-width="0.75" stroke-linecap="round" fill="none"/>
<path d="M38.0 359.6h0M127.4 326.2h0M71.4 344.0h0M95.6 322.7h0M107.1 372.7h0M132.7 349.0h0M111.3 353.4h0M85.9 355.8h0M102.2 342.6h0M81.6 340.7h0M32.8 337.6h0M47.1 361.3h0M92.6 325.6h0M112.5 349.1h0M95.4 342.3h0M38.9 323.0h0M73.8 351.3h0M91.9 358.6h0M40.8 362.5h0M64.2 348.9h0M35.6 322.6h0M108.8 351.8h0M94.1 340.5h0M90.9 329.5h0M63.6 353.8h0M34.6 368.0h0M85.3 324.8h0M111.8 372.9h0M128.8 328.5h0M48.1 327.6h0M94.2 377.2h0" stroke="#6b4a40" stroke-opacity="0.6" stroke-width="1.0" stroke-linecap="round" fill="none"/>
<path d="M116.7 320.8h0M62.4 355.8h0M66.9 340.8h0M122.1 329.1h0M105.8 352.4h0M69.3 342.0h0M129.9 350.1h0M105.7 337.4h0M93.1 327.1h0M99.2 325.6h0M70.5 346.7h0M104.8 348.8h0M69.3 348.2h0M123.6 328.2h0M38.4 329.2h0M36.7 372.4h0M42.5 357.9h0M101.7 371.1h0M62.7 342.5h0" stroke="#6b4a40" stroke-opacity="0.6" stroke-width="1.25" stroke-linecap="round" fill="none"/>
<path d="M41.9 359.5h0M69.1 337.7h0M102.8 331.6h0M74.8 342.5h0M106.5 370.7h0" stroke="#6b4a40" stroke-opacity="0.6" stroke-width="1.5" stroke-linecap="round" fill="none"/>
<path d="M179.3 262.1h0M201.6 253.0h0M198.2 270.5h0M227.0 278.8h0M221.7 289.2h0M238.2 297.6h0M158.8 288.4h0M235.6 284.5h0M151.0 291.0h0M218.2 275.3h0M211.4 294.6h0M192.6 306.5h0M147.5 275.4h0M184.1 270.2h0M174.4 260.0h0M161.2 275.0h0M235.6 287.9h0M233.2 264.8h0M207.2 296.7h0M241.4 263.3h0M200.0 287.3h0M152.6 263.7h0M206.4 308.2h0M195.5 255.4h0M210.6 256.7h0M181.5 282.3h0M208.4 289.2h0M171.7 291.0h0M240.8 287.1h0M236.6 306.6h0M200.3 264.5h0M234.3 262.7h0M218.1 284.9h0M216.2 287.8h0M169.0 276.1h0M231.4 256.1h0M194.2 258.5h0M225.4 283.0h0M209.0 274.7h0M224.6 280.0h0M152.6 273.8h0M187.7 263.5h0M179.4 260.8h0M157.6 277.0h0M175.7 305.8h0M222.1 270.4h0M190.4 278.1h0" stroke="#3e2722" stroke-opacity="0.85" stroke-width="1.0" stroke-linecap="round" fill="none"/>
<path d="M208.8 304.5h0M206.9 298.0h0M217.1 280.1h0M226.0 289.9h0M160.9 263.7h0M166.7 304.6h0M180.8 277.4h0M191.2 259.5h0M173.1 283.3h0M202.9 254.6h0M201.3 293.4h0M235.6 260.7h0M193.3 271.6h0M181.2 256.7h0M218.4 303.2h0M198.8 267.2h0M203.2 266.3h0M229.6 282.4h0M191.6 296.4h0M233.5 288.2h0M152.5 261.4h0M168.3 268.5h0M144.9 265.8h0M183.5 283.2h0M216.7 305.2h0M227.0 265.4h0M180.6 258.2h0M205.0 265.8h0M227.1 294.4h0M238.5 298.4h0M147.7 308.9h0M164.4 268.5h0M228.4 301.5h0M203.1 291.7h0M212.9 284.4h0M216.9 276.6h0M216.2 269.6h0M181.9 306.4h0M179.3 253.4h0M212.7 281.8h0M164.5 276.8h0M148.0 281.4h0M209.0 262.6h0M172.4 258.7h0M197.9 277.7h0M236.4 285.6h0M156.0 262.2h0M232.2 260.2h0M221.4 300.8h0M201.9 295.4h0M243.7 264.1h0M234.0 292.3h0M188.5 276.1h0M212.2 296.9h0M197.3 262.3h0" stroke="#3e2722" stroke-opacity="0.85" stroke-width="1.25" stroke-linecap="round" fill="none"/>
<path d="M236.2 296.7h0M211.8 264.3h0M173.2 287.3h0M197.0 275.9h0M177.0 257.6h0M221.7 292.6h0M195.4 283.0h0M216.1 294.6h0M201.8 290.9h0M170.8 276.2h0M205.4 260.6h0M204.6 279.9h0M196.6 279.3h0M229.6 263.8h0M225.5 256.4h0M223.5 290.8h0M238.5 274.1h0M156.0 266.0h0M175.4 298.5h0M210.5 299.8h0M178.6 266.1h0M178.0 274.8h0M215.9 261.9h0M146.2 262.3h0M225.9 305.8h0M204.9 264.5h0M235.0 269.9h0M203.2 289.8h0M157.9 288.0h0M241.0 307.0h0M222.1 277.6h0M219.8 304.0h0M189.2 256.8h0M233.0 263.8h0M200.6 267.7h0M218.3 267.6h0M239.6 258.9h0M210.2 276.7h0M221.2 271.9h0M239.3 279.4h0M218.6 267.3h0M204.3 260.2h0M205.8 302.0h0M203.0 289.4h0M158.6 281.0h0M203.5 296.2h0M157.4 255.8h0M223.8 296.8h0M236.3 298.3h0M228.4 273.6h0M226.6 265.7h0M210.5 286.8h0" stroke="#3e2722" stroke-opacity="0.85" stroke-width="1.5" stroke-linecap="round" fill="none"/>
<path d="M244.5 261.8h0M228.2 260.0h0M236.0 286.9h0M212.1 265.4h0M166.4 280.3h0M238.7 289.8h0M226.9 305.3h0M151.3 272.2h0M158.2 265.0h0M212.7 278.3h0M228.8 286.1h0M154.1 283.5h0M219.9 294.5h0M191.4 259.4h0M217.0 274.9h0M195.5 257.3h0" stroke="#3e2722" stroke-opacity="0.85" stroke-width="1.75" stroke-linecap="round" fill="none"/>
<path d="M175.5 328.5h0M146.1 344.9h0M185.8 367.7h0M207.8 341.3h0M219.9 328.5h0M171.5 342.1h0M189.6 329.5h0M232.9 375.3h0M195.1 355.6h0M224.1 342.5h0M207.3 323.3h0M158.9 339.5h0M157.8 325.6h0M196.4 328.2h0M213.7 334.9h0M164.9 332.9h0M191.4 357.6h0M163.9 334.3h0M202.4 334.8h0M193.7 350.6h0M154.8 345.4h0M186.5 349.7h0M241.9 325.8h0M235.7 367.3h0M169.8 327.2h0M153.5 329.1h0M193.6 330.0h0M231.5 358.7h0M193.8 331.4h0M169.4 324.9h0M193.9 350.8h0M179.3 344.6h0M173.1 352.1h0M188.4 327.8h0M230.7 332.2h0M182.1 332.7h0M208.4 371.0h0M239.5 328.2h0M242.1 327.9h0M180.6 339.0h0M226.5 367.5h0M190.8 341.4h0M225.5 364.2h0M215.8 338.1h0M186.4 348.4h0M243.6 335.1h0M193.4 360.9h0M162.7 334.1h0M226.3 368.5h0M164.6 341.1h0M198.7 356.8h0M179.6 331.2h0M224.8 375.9h0M229.1 367.9h0M183.3 349.8h0M189.3 330.1h0M194.6 322.1h0M217.5 364.9h0M194.0 341.7h0M210.3 337.9h0M194.8 371.7h0M156.1 374.1h0M222.5 343.1h0M188.7 332.8h0M150.3 372.6h0M207.3 360.2h0M236.0 374.6h0M207.0 336.4h0M197.4 332.3h0M226.3 329.6h0M151.1 371.3h0M214.4 368.7h0M167.7 338.7h0M186.9 331.1h0M213.9 340.2h0M218.3 374.3h0M224.5 342.5h0M190.3 336.8h0M209.5 334.2h0M166.2 364.8h0M199.2 335.1h0M192.8 323.1h0M194.6 347.9h0M189.2 364.0h0M164.1 328.5h0M151.3 370.2h0M215.4 369.4h0M159.3 369.7h0M191.2 353.9h0M200.2 343.1h0M241.1 334.5h0M210.9 342.5h0M153.1 338.5h0M191.6 329.5h0M233.4 327.8h0M206.7 328.0h0M164.7 352.9h0M221.3 361.0h0M225.5 353.6h0M228.6 369.9h0M159.1 341.3h0M195.6 345.6h0M190.1 350.7h0M204.8 352.8h0M205.1 346.9h0M177.5 350.5h0M154.8 328.8h0M205.1 366.6h0M178.6 329.5h0M191.9 365.8h0M194.0 332.9h0M215.3 322.1h0M162.6 337.3h0M204.6 322.5h0M227.4 356.2h0M207.6 351.3h0M154.0 336.5h0M179.5 329.5h0M209.2 334.3h0M227.4 362.8h0M180.2 368.0h0M187.7 376.0h0M187.3 330.8h0M200.0 339.9h0M148.2 333.5h0M201.9 326.3h0M172.0 359.6h0M212.0 342.5h0M204.9 324.1h0M233.9 353.9h0M178.2 351.7h0M170.6 334.7h0M183.8 359.1h0M216.5 338.8h0M195.9 374.4h0M151.5 321.3h0M208.2 337.0h0M188.7 353.4h0M244.3 337.0h0M157.8 362.5h0M213.0 321.9h0M182.0 342.1h0M180.9 333.7h0M194.6 354.1h0M175.3 356.2h0M216.3 350.0h0M196.0 350.3h0M227.6 367.2h0M191.3 366.1h0M212.0 341.0h0M180.3 339.5h0M162.9 352.8h0M215.9 335.7h0M221.1 364.4h0M199.3 349.4h0M230.1 334.6h0M202.1 340.9h0M157.2 373.0h0M147.4 339.1h0M172.9 323.7h0M180.7 358.2h0M231.8 347.6h0M197.2 349.1h0M183.7 331.5h0M184.5 343.4h0M168.1 368.4h0M170.1 375.3h0M158.9 350.3h0M215.0 359.8h0M162.5 338.3h0M178.5 374.3h0M182.5 366.5h0M214.4 355.3h0M204.1 367.6h0M197.3 321.5h0M187.3 331.2h0M228.5 327.5h0M207.5 360.8h0M224.6 321.9h0M203.2 366.2h0M198.2 336.6h0M242.6 364.4h0M170.4 334.2h0M213.0 375.9h0M173.4 323.4h0M211.0 335.8h0M202.5 358.1h0M209.2 352.8h0M179.8 350.1h0M166.4 321.4h0M189.4 361.0h0M166.9 329.6h0M184.0 339.6h0M180.6 329.1h0M215.3 327.7h0M201.9 371.2h0M184.1 322.7h0M190.6 358.7h0M179.2 358.2h0M165.1 332.2h0M156.2 343.3h0M178.8 360.6h0M191.7 320.7h0M229.4 370.5h0M170.2 323.8h0M215.2 377.1h0M168.8 322.9h0M210.2 334.9h0M187.1 324.7h0M221.0 327.5h0M157.5 369.3h0M226.5 369.8h0M178.5 341.7h0M218.6 359.0h0M231.5 332.1h0M186.6 361.4h0M179.4 373.4h0M185.4 349.5h0M205.7 337.3h0M190.6 331.2h0M170.6 339.0h0M213.0 321.0h0M224.9 328.2h0M203.5 376.5h0M206.9 326.2h0M190.8 326.6h0M180.9 334.2h0M161.3 327.6h0M161.4 348.8h0M181.8 351.5h0M167.3 376.2h0M199.0 331.7h0M202.7 367.6h0M199.7 343.7h0M149.4 324.5h0M186.3 329.3h0M210.1 325.0h0M165.1 342.8h0M224.4 326.3h0M224.8 333.0h0M183.0 354.3h0M208.4 354.7h0M164.1 319.8h0M205.5 365.0h0M163.1 371.9h0M198.9 355.3h0M180.0 349.3h0M190.7 349.1h0" stroke="#5a3328" stroke-opacity="0.75" stroke-width="1.0" stroke-linecap="round" fill="none"/>
<path d="M197.2 340.9h0M172.0 328.1h0M148.4 331.7h0M174.5 353.7h0M171.8 376.6h0M221.0 327.2h0M230.9 335.9h0M169.2 319.9h0M231.9 355.4h0M151.1 325.6h0M218.1 332.9h0M145.3 321.3h0M167.8 335.8h0M187.7 355.3h0M213.3 346.0h0M164.8 375.0h0M222.1 335.4h0M151.5 323.0h0M174.3 337.4h0M193.0 368.2h0M214.7 356.7h0M172.3 346.4h0M198.4 333.9h0M178.8 319.8h0M165.9 321.5h0M206.6 356.1h0M217.8 334.4h0M208.2 324.2h0M213.2 359.0h0M192.1 321.1h0M188.5 337.2h0M215.4 372.1h0M238.2 334.2h0M188.5 363.4h0M158.9 331.8h0M177.4 325.0h0M184.6 343.7h0M167.8 326.0h0M165.5 321.7h0M194.1 331.6h0M155.0 375.7h0M179.6 371.8h0M218.9 371.9h0M204.5 338.7h0M198.5 323.4h0M213.6 343.5h0M180.3 349.0h0M195.7 373.5h0M158.7 365.4h0M203.8 351.7h0M155.5 344.7h0M163.7 335.0h0M206.9 342.6h0M209.2 321.0h0M202.7 331.6h0M156.9 331.3h0M208.1 367.0h0M213.5 368.8h0M199.1 345.0h0M164.5 370.8h0M219.9 331.6h0M180.0 338.3h0M229.6 355.6h0M220.4 376.5h0M192.7 366.0h0M171.4 332.2h0M181.2 371.1h0M210.2 362.8h0M221.6 353.3h0M233.0 333.5h0M152.7 375.6h0M163.5 342.3h0M189.8 327.9h0M229.7 359.2h0M174.4 356.2h0M222.5 361.1h0M185.7 346.1h0M178.7 323.0h0M221.9 366.7h0M199.9 332.8h0M169.7 341.6h0M171.1 333.9h0M186.2 356.7h0M200.0 358.4h0M183.7 349.0h0M233.1 351.4h0M199.9 334.7h0M236.5 345.6h0M208.4 356.3h0M225.1 336.2h0M183.0 326.7h0M188.7 339.4h0M169.6 343.6h0M228.4 339.1h0M163.9 347.4h0M169.6 330.5h0M215.5 367.1h0M215.8 322.3h0M193.6 335.9h0M182.1 344.1h0M177.0 333.7h0M225.8 368.9h0M195.6 344.9h0M155.8 336.8h0M187.4 323.3h0M218.0 328.7h0M204.6 341.8h0M193.5 345.5h0M195.3 359.5h0M196.1 325.4h0M185.4 328.8h0M173.7 359.8h0M179.0 330.5h0M199.9 326.4h0M178.3 333.9h0M166.6 321.7h0M158.3 360.7h0M164.1 370.4h0M197.9 335.4h0M209.7 352.7h0M151.1 330.0h0M210.2 326.0h0M193.6 337.0h0M165.5 327.0h0M232.8 369.7h0M200.7 361.3h0M171.1 324.9h0M179.0 343.6h0M166.7 333.7h0M188.2 326.3h0M228.5 369.4h0M171.3 358.1h0M235.0 329.3h0M191.6 357.3h0M188.2 324.7h0M198.5 326.2h0M150.5 343.4h0M225.1 374.8h0M179.3 346.9h0M178.6 320.0h0M147.0 328.2h0M176.9 338.5h0M179.9 333.8h0M188.7 345.6h0M159.6 323.6h0M169.8 360.6h0M184.8 322.3h0M193.0 354.4h0M191.1 357.8h0M207.5 339.7h0M206.6 332.7h0M174.7 370.7h0M217.3 335.6h0M149.4 322.2h0M205.1 335.1h0M195.7 346.0h0M205.6 341.3h0M179.9 361.1h0M208.7 366.8h0M176.1 323.8h0M189.7 368.5h0M191.8 322.9h0M231.7 328.2h0M197.3 341.4h0M175.5 335.6h0M215.1 366.3h0M165.2 351.4h0M172.1 339.9h0M198.8 365.5h0M208.6 327.4h0M165.8 363.3h0M217.5 359.1h0M156.7 331.2h0M227.6 366.3h0M226.9 365.3h0M228.0 365.8h0M185.2 354.8h0M205.8 336.7h0M182.7 348.7h0M208.1 336.0h0M158.9 362.6h0M169.7 331.6h0M174.6 328.5h0M199.6 358.7h0M207.3 359.9h0M210.9 372.1h0M229.6 358.5h0M153.6 332.7h0M216.6 353.7h0M188.8 359.4h0M177.3 330.7h0M216.3 356.3h0M173.6 322.3h0M155.5 326.0h0M163.4 333.8h0M216.6 322.8h0M161.5 366.6h0M229.4 369.0h0M168.2 337.2h0M171.8 372.4h0M215.7 377.2h0M179.4 328.0h0M221.2 330.0h0M165.3 331.0h0M191.5 329.8h0M154.4 323.6h0M189.5 362.2h0M174.9 331.6h0M150.7 332.3h0M191.2 349.4h0M189.1 332.8h0M240.7 328.4h0M229.3 366.6h0M200.8 330.2h0M213.6 319.9h0M238.1 376.1h0M195.8 338.3h0M205.3 372.1h0M162.6 326.6h0M153.2 323.8h0M168.2 358.5h0M191.2 361.1h0M159.6 329.8h0M218.6 339.5h0M226.2 335.2h0M210.5 331.8h0M185.7 354.7h0M219.0 333.5h0M219.1 361.1h0M167.4 331.3h0M151.0 330.9h0M183.6 340.3h0M224.4 321.3h0M193.1 340.8h0M222.9 334.8h0M195.1 320.0h0M158.5 369.5h0M164.3 357.7h0M212.2 363.0h0M183.8 329.4h0M198.8 340.6h0M167.1 325.1h0M208.8 344.3h0M238.3 333.9h0M194.6 329.5h0M212.8 377.4h0M225.8 347.2h0M165.1 335.8h0M194.7 341.5h0M164.1 346.0h0M211.6 356.6h0M223.9 362.5h0M180.7 326.6h0M182.3 341.7h0M201.2 338.4h0M164.1 337.8h0M187.4 377.4h0M180.1 344.8h0M171.4 324.6h0M175.9 338.8h0M185.1 375.3h0M212.2 359.0h0M154.7 329.0h0M189.0 331.1h0M219.5 363.0h0" stroke="#5a3328" stroke-opacity="0.75" stroke-width="1.25" stroke-linecap="round" fill="none"/>
<path d="M223.7 360.3h0M190.9 358.3h0M166.1 333.3h0M219.2 347.5h0M182.9 343.0h0M187.4 330.3h0M199.3 338.6h0M174.9 361.7h0M187.4 320.8h0M194.8 323.4h0M147.9 327.2h0M144.6 337.4h0M196.5 363.3h0M227.9 366.5h0M191.4 359.4h0M143.6 323.2h0M163.8 374.6h0M174.7 368.5h0M190.7 339.7h0M231.8 321.0h0M208.7 364.1h0M155.4 334.3h0M153.8 323.8h0M173.8 321.0h0M212.3 331.2h0M226.4 333.1h0M161.5 332.7h0M176.0 330.5h0M224.6 362.6h0M222.5 324.3h0M167.6 323.5h0M185.0 355.7h0M172.4 352.6h0M163.2 320.4h0M161.3 337.8h0M189.5 329.1h0M208.0 372.6h0M185.4 353.6h0M188.1 345.2h0M192.5 333.4h0M212.0 371.7h0M220.7 345.4h0M153.2 340.5h0M208.4 352.4h0M167.8 372.2h0M183.9 333.5h0M173.1 322.5h0M176.0 333.6h0M200.8 337.6h0M156.8 321.4h0M144.4 334.6h0M187.0 364.6h0M223.1 360.2h0M196.8 363.5h0M175.9 330.7h0M223.4 360.0h0M218.2 372.5h0M219.1 344.2h0M211.5 373.7h0M195.5 325.6h0M223.1 368.4h0M185.2 375.5h0M207.5 321.4h0M179.8 347.3h0M163.9 345.0h0M176.2 338.1h0M207.4 365.3h0M205.0 355.5h0M203.4 359.3h0M209.5 341.1h0M191.0 343.7h0M226.1 324.3h0M180.0 353.1h0M214.4 367.8h0M177.9 324.6h0M190.0 331.7h0M160.8 324.6h0M235.0 368.3h0M211.7 337.1h0M172.0 371.8h0M170.4 331.7h0M193.0 349.5h0M162.3 320.7h0M185.6 356.5h0M232.9 371.1h0M169.5 359.1h0M173.6 357.3h0M165.0 349.5h0M171.5 377.1h0M218.5 363.8h0M216.4 336.7h0M203.3 340.1h0M194.8 326.1h0M194.1 330.6h0M204.1 340.2h0M202.0 375.5h0M224.8 329.0h0M202.5 341.1h0M178.3 343.7h0M167.8 368.9h0M160.9 326.4h0M155.4 364.0h0M148.5 336.0h0M226.9 338.3h0M200.4 356.2h0M193.5 328.8h0M233.0 321.3h0M201.8 343.9h0M192.5 351.9h0M182.5 329.6h0M203.2 332.1h0M226.9 326.8h0M204.2 325.5h0M170.3 348.8h0M231.7 364.7h0M220.5 362.7h0M177.3 327.6h0M164.1 338.7h0M185.7 351.0h0M209.7 354.7h0M179.8 328.4h0M236.7 329.1h0M175.5 372.2h0M186.8 333.1h0M156.2 344.6h0M199.4 340.8h0M209.2 351.3h0M206.8 362.9h0M182.6 350.3h0M168.1 325.7h0M230.3 331.4h0M196.2 348.6h0M194.8 367.6h0M183.5 322.1h0M174.5 350.7h0M203.4 330.2h0M212.6 328.7h0M166.1 353.5h0M182.4 321.6h0M232.4 326.5h0M172.2 371.4h0M215.2 323.3h0M219.3 356.7h0M229.0 365.4h0M178.1 329.1h0M212.5 361.0h0M226.9 343.3h0M168.0 340.2h0M207.1 341.5h0M212.4 352.1h0M201.4 322.4h0M198.1 344.1h0M171.9 356.3h0M201.1 335.6h0M208.8 370.8h0M170.5 323.1h0M176.2 352.7h0M194.0 344.3h0M152.8 325.9h0M197.1 323.8h0M211.3 361.2h0M169.3 328.6h0M199.3 367.4h0M225.5 346.3h0M198.3 340.2h0M173.3 364.0h0M195.6 346.2h0M160.7 374.5h0M212.7 359.8h0M167.8 334.6h0M163.7 334.8h0M202.9 357.8h0M184.2 359.8h0M223.9 336.3h0M195.1 321.1h0M197.4 333.3h0M156.7 330.8h0M204.6 334.7h0M154.3 333.9h0M166.5 341.0h0M191.0 359.1h0M227.9 357.0h0M173.1 334.6h0M199.7 322.7h0M181.8 361.4h0M223.4 333.1h0M200.2 327.7h0M168.8 344.3h0M223.7 337.7h0M179.5 361.3h0M205.7 325.8h0M235.5 327.2h0M173.0 323.7h0M204.2 336.5h0M219.7 366.9h0M181.3 368.5h0M152.6 338.7h0M165.6 323.8h0M162.6 346.5h0M178.9 332.6h0M163.0 337.2h0M199.7 328.0h0M187.7 324.7h0M211.8 328.0h0M201.0 320.1h0M183.5 344.8h0M191.2 339.0h0M181.8 325.1h0M160.7 328.5h0M201.3 345.9h0M156.9 329.9h0M180.9 335.3h0M223.1 367.4h0M174.9 363.7h0M186.1 373.9h0M187.6 361.9h0M208.8 325.4h0M186.0 352.9h0M197.7 362.7h0M192.8 335.3h0M163.3 326.9h0M170.0 328.3h0M206.2 357.7h0M156.8 328.9h0M224.4 329.0h0M176.7 364.2h0M229.2 357.4h0M211.0 332.6h0M186.4 328.7h0M193.8 348.1h0M201.6 376.4h0M202.1 361.7h0M187.2 319.9h0M215.8 326.4h0M176.9 341.4h0M185.2 358.3h0M214.9 367.3h0M163.6 333.3h0M233.6 344.5h0M206.3 330.6h0M166.9 369.5h0M224.3 325.8h0M179.0 339.2h0M188.0 343.3h0M189.2 368.0h0M162.5 329.8h0M168.8 357.1h0M198.7 327.5h0M156.1 337.6h0M187.7 367.9h0M226.6 357.6h0M176.8 323.5h0M218.6 368.0h0M163.8 339.9h0" stroke="#5a3328" stroke-opacity="0.75" stroke-width="1.5" stroke-linecap="round" fill="none"/>
<path d="M183.0 376.4h0M210.8 364.1h0M201.7 346.2h0M177.9 340.9h0M227.3 329.1h0M176.1 332.7h0M213.3 375.3h0M159.7 327.1h0M198.5 327.3h0M202.1 372.2h0M210.0 328.0h0M198.8 330.7h0M212.8 376.8h0M168.5 329.2h0M232.4 342.3h0M189.9 346.8h0M233.2 360.6h0M177.0 323.3h0M183.3 345.6h0M185.4 334.6h0M219.8 372.9h0M144.8 333.3h0M229.1 358.3h0M172.4 326.6h0M202.1 373.7h0M188.3 334.8h0M178.9 343.9h0M158.6 371.8h0M146.1 330.3h0M201.8 371.0h0M202.8 340.8h0M177.9 368.0h0M178.8 343.0h0M178.0 338.7h0M182.5 364.0h0M237.5 369.3h0M235.1 365.3h0M207.2 320.6h0M235.0 365.7h0M204.7 365.1h0M196.7 362.8h0M192.7 348.6h0M215.9 356.0h0M204.7 357.9h0M174.9 344.7h0M206.7 360.9h0M200.4 336.7h0M180.9 359.5h0M185.6 353.8h0M231.2 352.9h0M223.4 346.4h0M195.5 320.9h0M146.3 334.6h0M148.0 328.1h0M215.5 351.9h0M174.9 372.2h0M172.4 376.6h0M177.2 327.8h0M196.3 330.5h0M161.0 325.7h0M195.9 360.5h0M221.9 374.1h0M167.2 324.8h0M217.7 326.0h0M214.9 372.8h0M181.7 338.4h0M199.8 353.1h0M192.2 345.3h0M152.6 329.6h0M188.4 342.1h0M183.6 323.5h0M227.9 327.1h0M180.9 375.4h0M174.2 356.8h0M212.4 340.0h0M221.9 336.3h0M213.9 344.6h0M224.9 334.9h0M238.2 340.1h0M161.8 351.3h0M172.7 330.5h0M177.0 345.2h0M182.9 326.3h0M168.4 330.9h0M224.3 321.8h0M179.5 336.1h0M150.5 330.1h0M178.9 364.7h0M208.7 331.1h0M203.9 324.3h0M156.9 364.3h0M193.7 352.0h0M200.7 328.8h0M171.3 339.0h0M212.3 324.9h0M186.4 325.8h0M153.8 340.2h0M178.1 332.2h0M183.2 338.2h0M208.5 351.6h0M201.6 373.4h0M169.2 337.9h0M211.5 336.8h0M184.8 358.0h0M158.1 372.7h0M154.0 367.8h0M151.4 327.8h0M213.2 367.0h0M189.6 373.2h0M191.5 348.6h0M189.2 333.4h0M145.9 338.6h0M224.8 359.0h0M177.9 327.8h0M147.8 337.0h0M240.9 330.6h0M169.0 342.6h0M153.7 337.5h0M165.2 325.2h0M202.6 332.8h0M224.7 375.6h0M148.7 331.6h0M163.8 334.3h0M187.1 362.3h0M202.3 341.7h0M222.9 346.6h0M213.2 347.1h0M203.7 323.3h0M163.5 344.6h0M206.6 341.0h0M197.5 374.2h0M179.7 357.0h0M209.0 328.1h0M218.2 369.5h0M160.9 332.9h0M230.5 375.3h0M144.1 336.5h0M177.3 348.3h0M221.4 367.7h0M176.9 326.9h0M154.3 334.8h0M217.5 327.2h0M167.7 334.5h0M233.2 363.6h0M176.8 367.4h0M229.2 370.8h0M201.1 325.9h0M195.4 347.8h0M186.7 341.8h0M210.8 328.0h0M199.8 365.9h0M228.2 373.4h0M159.6 324.0h0M213.1 342.5h0M183.6 330.3h0M186.8 330.9h0M182.4 334.4h0M152.8 335.8h0M189.1 369.9h0M191.3 324.7h0M216.0 362.1h0M167.9 372.7h0M187.8 325.4h0M220.4 353.9h0M179.2 354.8h0M228.1 358.6h0M160.7 368.1h0M193.1 366.7h0M179.9 361.1h0M230.9 356.7h0M142.7 322.2h0M222.9 370.0h0M222.4 349.8h0M148.5 340.7h0M187.3 344.2h0M161.1 328.9h0M204.9 336.8h0M181.0 321.9h0M180.4 369.7h0M227.4 359.7h0M217.3 332.9h0M182.9 332.7h0M183.9 350.2h0" stroke="#5a3328" stroke-opacity="0.75" stroke-width="1.75" stroke-linecap="round" fill="none"/>
<rect x="29.50" y="298.00" width="73.00" height="13.00" fill="#ffffff"/>
<rect x="29.50" y="251.70" width="104.20" height="59.30" fill="none" stroke="#4a4a4a" stroke-width="1.1"/>
<text x="32.80" y="307.10" font-size="8.4" text-anchor="start" font-weight="normal" fill="#2b2b2b" >Baseline</text>
<rect x="141.50" y="298.00" width="71.80" height="13.00" fill="#ffffff"/>
<rect x="141.50" y="251.70" width="104.10" height="59.30" fill="none" stroke="#4a4a4a" stroke-width="1.1"/>
<text x="144.80" y="307.10" font-size="8.4" text-anchor="start" font-weight="normal" fill="#2b2b2b" >Baseline</text>
<rect x="29.50" y="365.50" width="72.70" height="13.10" fill="#ffffff"/>
<rect x="29.50" y="318.90" width="104.20" height="59.70" fill="none" stroke="#4a4a4a" stroke-width="1.1"/>
<text x="32.80" y="374.60" font-size="8.4" text-anchor="start" font-weight="normal" fill="#2b2b2b" >Cycle 1, day 10</text>
<rect x="141.50" y="365.50" width="71.50" height="13.10" fill="#ffffff"/>
<rect x="141.50" y="318.90" width="104.10" height="59.70" fill="none" stroke="#4a4a4a" stroke-width="1.1"/>
<text x="144.80" y="374.60" font-size="8.4" text-anchor="start" font-weight="normal" fill="#2b2b2b" >Cycle 1, day 10</text>
<text x="280.90" y="238.90" font-size="12.5" text-anchor="start" font-weight="bold" fill="#111111" >D</text>
<text x="422.00" y="230.50" font-size="8.4" text-anchor="middle" font-weight="normal" fill="#2b2b2b" >γH2AX in 17 tumor pairs</text>
<line x1="333.60" y1="238.70" x2="333.60" y2="398.20" stroke="#333333" stroke-width="1.1" />
<line x1="333.60" y1="398.20" x2="515.80" y2="398.20" stroke="#333333" stroke-width="1.1" />
<line x1="327.60" y1="398.20" x2="333.60" y2="398.20" stroke="#333333" stroke-width="1.1" />
<text x="325.00" y="401.10" font-size="8.5" text-anchor="end" font-weight="normal" fill="#2b2b2b" >0</text>
<line x1="327.60" y1="345.03" x2="333.60" y2="345.03" stroke="#333333" stroke-width="1.1" />
<text x="325.00" y="347.93" font-size="8.5" text-anchor="end" font-weight="normal" fill="#2b2b2b" >1,000</text>
<line x1="327.60" y1="291.86" x2="333.60" y2="291.86" stroke="#333333" stroke-width="1.1" />
<text x="325.00" y="294.76" font-size="8.5" text-anchor="end" font-weight="normal" fill="#2b2b2b" >2,000</text>
<line x1="327.60" y1="238.69" x2="333.60" y2="238.69" stroke="#333333" stroke-width="1.1" />
<text x="325.00" y="241.59" font-size="8.5" text-anchor="end" font-weight="normal" fill="#2b2b2b" >3,000</text>
<line x1="394.20" y1="398.20" x2="394.20" y2="402.50" stroke="#333333" stroke-width="1.1" />
<text x="394.20" y="413.90" font-size="8.5" text-anchor="middle" font-weight="normal" fill="#2b2b2b" >Baseline</text>
<line x1="454.60" y1="398.20" x2="454.60" y2="402.50" stroke="#333333" stroke-width="1.1" />
<text x="454.60" y="413.90" font-size="8.5" text-anchor="middle" font-weight="normal" fill="#2b2b2b" >Cycle 1, day 10</text>
<text x="0.00" y="0.00" font-size="8.6" text-anchor="middle" font-weight="normal" fill="#2b2b2b" transform="translate(294.4,318.7) rotate(-90)">γH2AX-positive cells/mm<tspan font-size="5.5" dy="-3">2</tspan></text>
<rect x="342.1" y="243.0" width="4.3" height="4.3" fill="#d4187f"/>
<text x="353.00" y="248.00" font-size="8.5" text-anchor="start" font-weight="normal" fill="#2b2b2b" >Example shown in panel C</text>
<rect x="342.1" y="252.6" width="4.3" height="4.3" fill="#3ba7d8"/>
<text x="353.00" y="257.70" font-size="8.5" text-anchor="start" font-weight="normal" fill="#2b2b2b" >ATM<tspan font-size="5.6" dy="-3.0">loss</tspan><tspan dy="3.0"> tumors</tspan></text>
<line x1="394.20" y1="359.50" x2="454.60" y2="265.40" stroke="#111111" stroke-width="1.35" />
<line x1="394.20" y1="344.70" x2="454.60" y2="283.50" stroke="#dc157a" stroke-width="1.35" />
<line x1="394.20" y1="314.30" x2="454.60" y2="294.40" stroke="#111111" stroke-width="1.35" />
<line x1="394.20" y1="349.00" x2="454.60" y2="299.10" stroke="#111111" stroke-width="1.35" />
<line x1="394.20" y1="323.00" x2="454.60" y2="334.90" stroke="#111111" stroke-width="1.35" />
<line x1="394.20" y1="349.00" x2="454.60" y2="321.30" stroke="#111111" stroke-width="1.35" />
<line x1="394.20" y1="349.00" x2="454.60" y2="339.80" stroke="#111111" stroke-width="1.35" />
<line x1="394.20" y1="340.40" x2="454.60" y2="360.80" stroke="#3aa6da" stroke-width="1.35" />
<line x1="394.20" y1="360.80" x2="454.60" y2="385.40" stroke="#3aa6da" stroke-width="1.35" />
<line x1="394.20" y1="366.00" x2="454.60" y2="366.90" stroke="#111111" stroke-width="1.35" />
<line x1="394.20" y1="371.50" x2="454.60" y2="351.60" stroke="#111111" stroke-width="1.35" />
<line x1="394.20" y1="380.20" x2="454.60" y2="381.00" stroke="#3aa6da" stroke-width="1.35" />
<line x1="394.20" y1="384.00" x2="454.60" y2="371.20" stroke="#111111" stroke-width="1.35" />
<line x1="394.20" y1="380.20" x2="454.60" y2="390.60" stroke="#3aa6da" stroke-width="1.35" />
<line x1="394.20" y1="384.00" x2="454.60" y2="394.40" stroke="#111111" stroke-width="1.35" />
<line x1="394.20" y1="389.70" x2="454.60" y2="390.60" stroke="#3aa6da" stroke-width="1.35" />
<line x1="394.20" y1="382.00" x2="454.60" y2="387.00" stroke="#3aa6da" stroke-width="1.35" />
<path d="M391.65,356.95L396.75,362.05M396.75,356.95L391.65,362.05" stroke="#111111" stroke-width="1.3" fill="none"/>
<path d="M452.05,262.85L457.15,267.95M457.15,262.85L452.05,267.95" stroke="#111111" stroke-width="1.3" fill="none"/>
<rect x="391.65" y="342.15" width="5.10" height="5.10" fill="#dc157a" stroke="#dc157a" stroke-width="0.6"/>
<rect x="452.05" y="280.95" width="5.10" height="5.10" fill="#dc157a" stroke="#dc157a" stroke-width="0.6"/>
<polygon points="394.20,317.23 397.00,312.10 391.39,312.10" fill="white" stroke="#111111" stroke-width="1.3" stroke-linejoin="miter"/>
<polygon points="454.60,297.33 457.41,292.20 451.80,292.20" fill="white" stroke="#111111" stroke-width="1.3" stroke-linejoin="miter"/>
<circle cx="394.20" cy="349.00" r="2.55" fill="white" stroke="#111111" stroke-width="1.3"/>
<circle cx="454.60" cy="299.10" r="2.55" fill="white" stroke="#111111" stroke-width="1.3"/>
<polygon points="394.20,320.07 397.00,325.20 391.39,325.20" fill="white" stroke="#111111" stroke-width="1.3" stroke-linejoin="miter"/>
<polygon points="454.60,331.97 457.41,337.10 451.80,337.10" fill="white" stroke="#111111" stroke-width="1.3" stroke-linejoin="miter"/>
<polygon points="394.20,346.45 396.75,349.00 394.20,351.55 391.65,349.00" fill="white" stroke="#111111" stroke-width="1.3"/>
<polygon points="454.60,318.75 457.15,321.30 454.60,323.85 452.05,321.30" fill="white" stroke="#111111" stroke-width="1.3"/>
<circle cx="394.20" cy="349.00" r="2.55" fill="white" stroke="#111111" stroke-width="1.3"/>
<circle cx="454.60" cy="339.80" r="2.55" fill="white" stroke="#111111" stroke-width="1.3"/>
<polygon points="394.20,337.47 397.00,342.60 391.39,342.60" fill="#3aa6da" stroke="#3aa6da" stroke-width="0.6" stroke-linejoin="miter"/>
<polygon points="454.60,357.49 455.42,359.67 457.75,359.78 455.93,361.23 456.55,363.48 454.60,362.20 452.65,363.48 453.27,361.23 451.45,359.78 453.78,359.67" fill="#3aa6da" stroke="#3aa6da" stroke-width="0.6"/>
<circle cx="394.20" cy="360.80" r="2.55" fill="#3aa6da" stroke="#3aa6da" stroke-width="0.6"/>
<polygon points="454.60,382.85 457.15,385.40 454.60,387.95 452.05,385.40" fill="#3aa6da" stroke="#3aa6da" stroke-width="0.6"/>
<circle cx="394.20" cy="366.00" r="2.55" fill="#111111" stroke="#111111" stroke-width="0.6"/>
<circle cx="454.60" cy="366.90" r="2.55" fill="#111111" stroke="#111111" stroke-width="0.6"/>
<polygon points="394.20,374.43 397.00,369.30 391.39,369.30" fill="#111111" stroke="#111111" stroke-width="0.6" stroke-linejoin="miter"/>
<polygon points="454.60,354.53 457.41,349.40 451.80,349.40" fill="#111111" stroke="#111111" stroke-width="0.6" stroke-linejoin="miter"/>
<rect x="391.65" y="377.65" width="5.10" height="5.10" fill="#3aa6da" stroke="#3aa6da" stroke-width="0.6"/>
<path d="M452.05,381.00L457.15,381.00M454.60,378.45L454.60,383.55" stroke="#3aa6da" stroke-width="1.8199999999999998" fill="none"/>
<rect x="391.65" y="382.85" width="5.10" height="2.29" fill="#111111"/>
<polygon points="454.60,368.65 457.15,371.20 454.60,373.75 452.05,371.20" fill="#111111" stroke="#111111" stroke-width="0.6"/>
<rect x="391.65" y="377.65" width="5.10" height="5.10" fill="#3aa6da" stroke="#3aa6da" stroke-width="0.6"/>
<rect x="452.05" y="388.05" width="5.10" height="5.10" fill="#3aa6da" stroke="#3aa6da" stroke-width="0.6"/>
<rect x="391.65" y="382.85" width="5.10" height="2.29" fill="#111111"/>
<rect x="452.05" y="393.25" width="5.10" height="2.29" fill="#111111"/>
<circle cx="394.20" cy="389.70" r="2.55" fill="#3aa6da" stroke="#3aa6da" stroke-width="0.6"/>
<circle cx="454.60" cy="390.60" r="2.55" fill="#3aa6da" stroke="#3aa6da" stroke-width="0.6"/>
<rect x="391.65" y="379.45" width="5.10" height="5.10" fill="#3aa6da" stroke="#3aa6da" stroke-width="0.6"/>
<rect x="452.05" y="384.45" width="5.10" height="5.10" fill="#3aa6da" stroke="#3aa6da" stroke-width="0.6"/>
<text x="2.00" y="439.30" font-size="12.5" text-anchor="start" font-weight="bold" fill="#111111" >E</text>
<text x="158.70" y="445.50" font-size="8.5" text-anchor="middle" font-weight="normal" fill="#2b2b2b" >γH2AX post-treatment changes</text>
<line x1="49.60" y1="448.40" x2="49.60" y2="607.40" stroke="#333333" stroke-width="1.1" />
<line x1="49.60" y1="607.40" x2="265.10" y2="607.40" stroke="#333333" stroke-width="1.1" />
<line x1="44.60" y1="607.00" x2="49.60" y2="607.00" stroke="#333333" stroke-width="1.1" />
<text x="44.00" y="609.90" font-size="8.5" text-anchor="end" font-weight="normal" fill="#2b2b2b" >0</text>
<line x1="44.60" y1="554.13" x2="49.60" y2="554.13" stroke="#333333" stroke-width="1.1" />
<text x="44.00" y="557.03" font-size="8.5" text-anchor="end" font-weight="normal" fill="#2b2b2b" >1,000</text>
<line x1="44.60" y1="501.26" x2="49.60" y2="501.26" stroke="#333333" stroke-width="1.1" />
<text x="44.00" y="504.16" font-size="8.5" text-anchor="end" font-weight="normal" fill="#2b2b2b" >2,000</text>
<line x1="44.60" y1="448.39" x2="49.60" y2="448.39" stroke="#333333" stroke-width="1.1" />
<text x="44.00" y="451.29" font-size="8.5" text-anchor="end" font-weight="normal" fill="#2b2b2b" >3,000</text>
<text x="0.00" y="0.00" font-size="8.6" text-anchor="middle" font-weight="normal" fill="#2b2b2b" transform="translate(10.0,528.0) rotate(-90)">γH2AX-positive cells/mm<tspan font-size="5.5" dy="-3">2</tspan></text>
<line x1="72.60" y1="607.40" x2="72.60" y2="611.80" stroke="#333333" stroke-width="1.1" />
<text x="72.60" y="621.10" font-size="8.5" text-anchor="middle" font-weight="normal" fill="#2b2b2b" >Baseline</text>
<line x1="130.30" y1="607.40" x2="130.30" y2="611.80" stroke="#333333" stroke-width="1.1" />
<text x="130.30" y="621.10" font-size="8.5" text-anchor="middle" font-weight="normal" fill="#2b2b2b" >Cycle 1, day 10</text>
<line x1="187.90" y1="607.40" x2="187.90" y2="611.80" stroke="#333333" stroke-width="1.1" />
<text x="187.90" y="621.10" font-size="8.5" text-anchor="middle" font-weight="normal" fill="#2b2b2b" >Baseline</text>
<line x1="245.00" y1="607.40" x2="245.00" y2="611.80" stroke="#333333" stroke-width="1.1" />
<text x="245.00" y="621.10" font-size="8.5" text-anchor="middle" font-weight="normal" fill="#2b2b2b" >Cycle 1, day 10</text>
<text x="101.50" y="637.20" font-size="8.5" text-anchor="middle" font-weight="normal" fill="#2b2b2b" >No ATM<tspan font-size="5.6" dy="-3.0">loss</tspan></text>
<text x="216.50" y="637.20" font-size="8.5" text-anchor="middle" font-weight="normal" fill="#2b2b2b" >ATM<tspan font-size="5.6" dy="-3.0">loss</tspan></text>
<line x1="72.50" y1="463.30" x2="130.50" y2="463.30" stroke="#555" stroke-width="1.0" />
<line x1="72.50" y1="461.00" x2="72.50" y2="465.60" stroke="#555" stroke-width="1.0" />
<line x1="130.50" y1="461.00" x2="130.50" y2="465.60" stroke="#555" stroke-width="1.0" />
<text x="100.80" y="459.30" font-size="8.5" text-anchor="middle" font-weight="normal" fill="#2b2b2b" ><tspan font-style="italic">P</tspan> = 0.027</text>
<line x1="187.40" y1="462.80" x2="245.60" y2="462.80" stroke="#555" stroke-width="1.0" />
<line x1="187.40" y1="460.50" x2="187.40" y2="465.10" stroke="#555" stroke-width="1.0" />
<line x1="245.60" y1="460.50" x2="245.60" y2="465.10" stroke="#555" stroke-width="1.0" />
<text x="216.20" y="459.60" font-size="8.5" text-anchor="middle" font-weight="normal" fill="#2b2b2b" >NS</text>
<line x1="72.60" y1="524.80" x2="72.60" y2="558.20" stroke="#555" stroke-width="1.0" />
<line x1="72.60" y1="590.00" x2="72.60" y2="599.30" stroke="#555" stroke-width="1.0" />
<line x1="66.10" y1="524.80" x2="79.10" y2="524.80" stroke="#555" stroke-width="1.0" />
<line x1="66.10" y1="599.30" x2="79.10" y2="599.30" stroke="#555" stroke-width="1.0" />
<rect x="59.50" y="558.20" width="26.00" height="31.80" fill="white" stroke="#555" stroke-width="1.0"/>
<line x1="59.50" y1="566.00" x2="85.50" y2="566.00" stroke="#555" stroke-width="1.0" />
<line x1="130.20" y1="475.00" x2="130.20" y2="507.00" stroke="#555" stroke-width="1.0" />
<line x1="130.20" y1="580.20" x2="130.20" y2="602.40" stroke="#555" stroke-width="1.0" />
<line x1="123.70" y1="475.00" x2="136.70" y2="475.00" stroke="#555" stroke-width="1.0" />
<line x1="123.70" y1="602.40" x2="136.70" y2="602.40" stroke="#555" stroke-width="1.0" />
<rect x="116.20" y="507.00" width="27.50" height="73.20" fill="#9b9b9b" stroke="#555" stroke-width="1.0"/>
<line x1="116.20" y1="547.00" x2="143.70" y2="547.00" stroke="#555" stroke-width="1.0" />
<line x1="187.90" y1="552.50" x2="187.90" y2="561.50" stroke="#555" stroke-width="1.0" />
<line x1="187.90" y1="596.30" x2="187.90" y2="599.60" stroke="#555" stroke-width="1.0" />
<line x1="181.00" y1="552.50" x2="194.80" y2="552.50" stroke="#555" stroke-width="1.0" />
<line x1="181.00" y1="599.60" x2="194.80" y2="599.60" stroke="#555" stroke-width="1.0" />
<rect x="173.50" y="561.50" width="28.20" height="34.80" fill="white" stroke="#555" stroke-width="1.0"/>
<line x1="173.50" y1="591.90" x2="201.70" y2="591.90" stroke="#555" stroke-width="1.0" />
<line x1="244.90" y1="570.10" x2="244.90" y2="580.90" stroke="#555" stroke-width="1.0" />
<line x1="244.90" y1="601.00" x2="244.90" y2="601.00" stroke="#555" stroke-width="1.0" />
<line x1="238.00" y1="570.10" x2="251.80" y2="570.10" stroke="#555" stroke-width="1.0" />
<line x1="238.00" y1="601.00" x2="251.80" y2="601.00" stroke="#555" stroke-width="1.0" />
<rect x="231.40" y="580.90" width="27.90" height="20.10" fill="#9b9b9b" stroke="#555" stroke-width="1.0"/>
<line x1="231.40" y1="595.30" x2="259.30" y2="595.30" stroke="#555" stroke-width="1.0" />
<circle cx="69.00" cy="524.80" r="2.30" fill="#111" stroke="#111" stroke-width="0.5"/>
<circle cx="69.00" cy="531.80" r="2.30" fill="#111" stroke="#111" stroke-width="0.5"/>
<circle cx="62.50" cy="559.50" r="2.30" fill="#111" stroke="#111" stroke-width="0.5"/>
<circle cx="69.00" cy="557.60" r="2.30" fill="#111" stroke="#111" stroke-width="0.5"/>
<circle cx="76.00" cy="556.50" r="2.30" fill="#111" stroke="#111" stroke-width="0.5"/>
<circle cx="82.60" cy="559.70" r="2.30" fill="#111" stroke="#111" stroke-width="0.5"/>
<circle cx="69.00" cy="572.20" r="2.30" fill="#111" stroke="#111" stroke-width="0.5"/>
<circle cx="76.00" cy="575.80" r="2.30" fill="#111" stroke="#111" stroke-width="0.5"/>
<circle cx="69.00" cy="582.80" r="2.30" fill="#111" stroke="#111" stroke-width="0.5"/>
<circle cx="76.00" cy="595.70" r="2.30" fill="#111" stroke="#111" stroke-width="0.5"/>
<circle cx="82.60" cy="593.70" r="2.30" fill="#111" stroke="#111" stroke-width="0.5"/>
<circle cx="62.50" cy="599.30" r="2.30" fill="#111" stroke="#111" stroke-width="0.5"/>
<rect x="127.80" y="472.80" width="4.40" height="4.40" fill="#111" stroke="#111" stroke-width="0.5"/>
<rect x="127.80" y="491.60" width="4.40" height="4.40" fill="#111" stroke="#111" stroke-width="0.5"/>
<rect x="127.80" y="506.30" width="4.40" height="4.40" fill="#111" stroke="#111" stroke-width="0.5"/>
<rect x="134.50" y="503.60" width="4.40" height="4.40" fill="#111" stroke="#111" stroke-width="0.5"/>
<rect x="127.80" y="529.00" width="4.40" height="4.40" fill="#111" stroke="#111" stroke-width="0.5"/>
<rect x="134.50" y="543.10" width="4.40" height="4.40" fill="#111" stroke="#111" stroke-width="0.5"/>
<rect x="127.80" y="546.70" width="4.40" height="4.40" fill="#111" stroke="#111" stroke-width="0.5"/>
<rect x="127.80" y="560.30" width="4.40" height="4.40" fill="#111" stroke="#111" stroke-width="0.5"/>
<rect x="121.00" y="575.80" width="4.40" height="4.40" fill="#111" stroke="#111" stroke-width="0.5"/>
<rect x="127.80" y="579.50" width="4.40" height="4.40" fill="#111" stroke="#111" stroke-width="0.5"/>
<rect x="121.00" y="600.60" width="4.40" height="4.40" fill="#111" stroke="#111" stroke-width="0.5"/>
<rect x="134.50" y="597.80" width="4.40" height="4.40" fill="#111" stroke="#111" stroke-width="0.5"/>
<polygon points="187.90,549.86 190.43,554.48 185.37,554.48" fill="#111" stroke="#111" stroke-width="0.5" stroke-linejoin="miter"/>
<polygon points="187.90,568.65 190.43,573.28 185.37,573.28" fill="#111" stroke="#111" stroke-width="0.5" stroke-linejoin="miter"/>
<polygon points="187.90,589.65 190.43,594.28 185.37,594.28" fill="#111" stroke="#111" stroke-width="0.5" stroke-linejoin="miter"/>
<polygon points="194.40,588.56 196.93,593.18 191.87,593.18" fill="#111" stroke="#111" stroke-width="0.5" stroke-linejoin="miter"/>
<polygon points="187.90,596.96 190.43,601.58 185.37,601.58" fill="#111" stroke="#111" stroke-width="0.5" stroke-linejoin="miter"/>
<polygon points="244.90,572.75 247.43,568.12 242.37,568.12" fill="#111" stroke="#111" stroke-width="0.5" stroke-linejoin="miter"/>
<polygon points="252.30,593.44 254.83,588.82 249.77,588.82" fill="#111" stroke="#111" stroke-width="0.5" stroke-linejoin="miter"/>
<polygon points="244.90,597.25 247.43,592.62 242.37,592.62" fill="#111" stroke="#111" stroke-width="0.5" stroke-linejoin="miter"/>
<polygon points="238.30,604.14 240.83,599.52 235.77,599.52" fill="#111" stroke="#111" stroke-width="0.5" stroke-linejoin="miter"/>
<polygon points="252.30,604.14 254.83,599.52 249.77,599.52" fill="#111" stroke="#111" stroke-width="0.5" stroke-linejoin="miter"/>
<text x="281.90" y="439.30" font-size="12.5" text-anchor="start" font-weight="bold" fill="#111111" >F</text>
<text x="423.30" y="440.00" font-size="8.5" text-anchor="middle" font-weight="normal" fill="#2b2b2b" >PD-L1 level in baseline biopsies</text>
<line x1="333.90" y1="448.80" x2="333.90" y2="607.60" stroke="#333333" stroke-width="1.1" />
<line x1="333.90" y1="607.60" x2="514.70" y2="607.60" stroke="#333333" stroke-width="1.1" />
<line x1="328.40" y1="607.60" x2="333.90" y2="607.60" stroke="#333333" stroke-width="1.1" />
<text x="324.60" y="610.50" font-size="8.5" text-anchor="end" font-weight="normal" fill="#2b2b2b" >0</text>
<line x1="328.40" y1="554.70" x2="333.90" y2="554.70" stroke="#333333" stroke-width="1.1" />
<text x="324.60" y="557.60" font-size="8.5" text-anchor="end" font-weight="normal" fill="#2b2b2b" >10</text>
<line x1="328.40" y1="501.80" x2="333.90" y2="501.80" stroke="#333333" stroke-width="1.1" />
<text x="324.60" y="504.70" font-size="8.5" text-anchor="end" font-weight="normal" fill="#2b2b2b" >20</text>
<line x1="328.40" y1="448.90" x2="333.90" y2="448.90" stroke="#333333" stroke-width="1.1" />
<text x="324.60" y="451.80" font-size="8.5" text-anchor="end" font-weight="normal" fill="#2b2b2b" >30</text>
<text x="0.00" y="0.00" font-size="8.6" text-anchor="middle" font-weight="normal" fill="#2b2b2b" transform="translate(306.6,527.6) rotate(-90)">Combined positive score</text>
<line x1="352.40" y1="607.60" x2="352.40" y2="613.20" stroke="#333333" stroke-width="1.1" />
<text x="0.00" y="0.00" font-size="8.5" text-anchor="end" font-weight="normal" fill="#2b2b2b" transform="translate(355.90,620.7) rotate(-45)">Breast</text>
<line x1="380.80" y1="607.60" x2="380.80" y2="613.20" stroke="#333333" stroke-width="1.1" />
<text x="0.00" y="0.00" font-size="8.5" text-anchor="end" font-weight="normal" fill="#2b2b2b" transform="translate(384.30,620.7) rotate(-45)">Colorectal</text>
<line x1="409.00" y1="607.60" x2="409.00" y2="613.20" stroke="#333333" stroke-width="1.1" />
<text x="0.00" y="0.00" font-size="8.5" text-anchor="end" font-weight="normal" fill="#2b2b2b" transform="translate(412.50,620.7) rotate(-45)">Prostate</text>
<line x1="437.40" y1="607.60" x2="437.40" y2="613.20" stroke="#333333" stroke-width="1.1" />
<text x="0.00" y="0.00" font-size="8.5" text-anchor="end" font-weight="normal" fill="#2b2b2b" transform="translate(440.90,620.7) rotate(-45)">Ovarian</text>
<line x1="465.70" y1="607.60" x2="465.70" y2="613.20" stroke="#333333" stroke-width="1.1" />
<text x="0.00" y="0.00" font-size="8.5" text-anchor="end" font-weight="normal" fill="#2b2b2b" transform="translate(469.20,620.7) rotate(-45)">Endometrial</text>
<line x1="494.20" y1="607.60" x2="494.20" y2="613.20" stroke="#333333" stroke-width="1.1" />
<text x="0.00" y="0.00" font-size="8.5" text-anchor="end" font-weight="normal" fill="#2b2b2b" transform="translate(497.70,620.7) rotate(-45)">Lung</text>
<text x="423.00" y="669.80" font-size="8.5" text-anchor="middle" font-weight="normal" fill="#2b2b2b" >Tumor type</text>
<line x1="343.00" y1="607.60" x2="361.80" y2="607.60" stroke="#66b2db" stroke-width="1.3" />
<circle cx="345.00" cy="607.60" r="2.0" fill="#66b2db"/>
<circle cx="359.80" cy="607.60" r="2.0" fill="#66b2db"/>
<line x1="371.30" y1="544.12" x2="390.60" y2="544.12" stroke="#c81c7c" stroke-width="1.3" />
<circle cx="380.80" cy="544.12" r="2.0" fill="#c81c7c"/>
<line x1="399.50" y1="607.60" x2="418.50" y2="607.60" stroke="#1f9a5a" stroke-width="1.3" />
<circle cx="401.50" cy="607.60" r="2.0" fill="#1f9a5a"/>
<circle cx="409.00" cy="607.60" r="2.0" fill="#1f9a5a"/>
<circle cx="417.00" cy="607.60" r="2.0" fill="#1f9a5a"/>
<line x1="428.00" y1="567.90" x2="447.00" y2="567.90" stroke="#7d1e63" stroke-width="1.3" />
<circle cx="430.00" cy="528.25" r="2.0" fill="#7d1e63"/>
<circle cx="437.70" cy="528.25" r="2.0" fill="#7d1e63"/>
<circle cx="437.50" cy="554.70" r="2.0" fill="#7d1e63"/>
<circle cx="437.50" cy="581.15" r="2.0" fill="#7d1e63"/>
<circle cx="445.30" cy="581.15" r="2.0" fill="#7d1e63"/>
<circle cx="430.00" cy="586.44" r="2.0" fill="#7d1e63"/>
<line x1="456.50" y1="562.40" x2="475.60" y2="562.40" stroke="#f0a030" stroke-width="1.3" />
<circle cx="465.80" cy="528.25" r="2.0" fill="#f0a030"/>
<circle cx="465.80" cy="597.02" r="2.0" fill="#f0a030"/>
<line x1="485.00" y1="475.35" x2="503.70" y2="475.35" stroke="#111111" stroke-width="1.3" />
<circle cx="494.40" cy="475.35" r="2.0" fill="#111111"/>
<text x="1.10" y="666.30" font-size="12.5" text-anchor="start" font-weight="bold" fill="#111111" >G</text>
<text x="140.50" y="664.20" font-size="8.5" text-anchor="middle" font-weight="normal" fill="#2b2b2b" >PD-L1 post-treatment change in</text>
<text x="140.50" y="674.20" font-size="8.5" text-anchor="middle" font-weight="normal" fill="#2b2b2b" >ovarian and endometrial samples</text>
<line x1="49.60" y1="675.50" x2="49.60" y2="833.80" stroke="#333333" stroke-width="1.1" />
<line x1="49.60" y1="833.80" x2="230.80" y2="833.80" stroke="#333333" stroke-width="1.1" />
<line x1="44.10" y1="833.80" x2="49.60" y2="833.80" stroke="#333333" stroke-width="1.1" />
<text x="39.80" y="836.70" font-size="8.5" text-anchor="end" font-weight="normal" fill="#2b2b2b" >0</text>
<line x1="44.10" y1="781.04" x2="49.60" y2="781.04" stroke="#333333" stroke-width="1.1" />
<text x="39.80" y="783.94" font-size="8.5" text-anchor="end" font-weight="normal" fill="#2b2b2b" >20</text>
<line x1="44.10" y1="728.28" x2="49.60" y2="728.28" stroke="#333333" stroke-width="1.1" />
<text x="39.80" y="731.18" font-size="8.5" text-anchor="end" font-weight="normal" fill="#2b2b2b" >40</text>
<line x1="44.10" y1="675.52" x2="49.60" y2="675.52" stroke="#333333" stroke-width="1.1" />
<text x="39.80" y="678.42" font-size="8.5" text-anchor="end" font-weight="normal" fill="#2b2b2b" >60</text>
<text x="0.00" y="0.00" font-size="8.6" text-anchor="middle" font-weight="normal" fill="#2b2b2b" transform="translate(23.0,755.0) rotate(-90)">Combined positive score</text>
<line x1="101.20" y1="833.80" x2="101.20" y2="838.50" stroke="#333333" stroke-width="1.1" />
<text x="101.20" y="846.80" font-size="8.5" text-anchor="middle" font-weight="normal" fill="#2b2b2b" >Baseline</text>
<line x1="178.40" y1="833.80" x2="178.40" y2="838.50" stroke="#333333" stroke-width="1.1" />
<text x="178.40" y="846.80" font-size="8.5" text-anchor="middle" font-weight="normal" fill="#2b2b2b" >Cycle 1, day 10</text>
<text x="140.60" y="858.80" font-size="8.5" text-anchor="middle" font-weight="normal" fill="#2b2b2b" >Time point</text>
<line x1="101.20" y1="688.60" x2="178.50" y2="688.60" stroke="#555" stroke-width="1.0" />
<line x1="101.20" y1="688.60" x2="101.20" y2="695.30" stroke="#555" stroke-width="1.0" />
<line x1="178.50" y1="688.60" x2="178.50" y2="695.30" stroke="#555" stroke-width="1.0" />
<text x="140.00" y="686.20" font-size="8.5" text-anchor="middle" font-weight="normal" fill="#2b2b2b" >NS</text>
<line x1="101.20" y1="794.23" x2="101.20" y2="794.23" stroke="#222" stroke-width="1.4" />
<line x1="101.20" y1="823.25" x2="101.20" y2="828.52" stroke="#222" stroke-width="1.4" />
<line x1="89.40" y1="794.23" x2="113.00" y2="794.23" stroke="#222" stroke-width="1.4" />
<line x1="89.40" y1="828.52" x2="113.00" y2="828.52" stroke="#222" stroke-width="1.4" />
<rect x="75.30" y="794.23" width="51.90" height="29.02" fill="#9b9b9b" stroke="#555" stroke-width="1.0"/>
<line x1="75.30" y1="814.01" x2="127.20" y2="814.01" stroke="#555" stroke-width="1.0" />
<line x1="178.40" y1="701.90" x2="178.40" y2="761.25" stroke="#222" stroke-width="1.4" />
<line x1="178.40" y1="817.97" x2="178.40" y2="820.61" stroke="#222" stroke-width="1.4" />
<line x1="165.90" y1="701.90" x2="190.90" y2="701.90" stroke="#222" stroke-width="1.4" />
<line x1="165.90" y1="820.61" x2="190.90" y2="820.61" stroke="#222" stroke-width="1.4" />
<rect x="152.30" y="761.25" width="52.10" height="56.72" fill="white" stroke="#555" stroke-width="1.0"/>
<line x1="152.30" y1="807.42" x2="204.40" y2="807.42" stroke="#555" stroke-width="1.0" />
<circle cx="91.90" cy="794.23" r="2.50" fill="#111" stroke="#111" stroke-width="0.5"/>
<circle cx="101.20" cy="794.23" r="2.50" fill="#111" stroke="#111" stroke-width="0.5"/>
<circle cx="110.60" cy="794.23" r="2.50" fill="#111" stroke="#111" stroke-width="0.5"/>
<circle cx="101.20" cy="807.42" r="2.50" fill="#111" stroke="#111" stroke-width="0.5"/>
<circle cx="91.90" cy="820.61" r="2.50" fill="#111" stroke="#111" stroke-width="0.5"/>
<circle cx="101.20" cy="820.61" r="2.50" fill="#111" stroke="#111" stroke-width="0.5"/>
<circle cx="110.60" cy="823.25" r="2.50" fill="#111" stroke="#111" stroke-width="0.5"/>
<circle cx="91.90" cy="828.52" r="2.50" fill="#111" stroke="#111" stroke-width="0.5"/>
<rect x="176.10" y="699.60" width="4.60" height="4.60" fill="#111" stroke="#111" stroke-width="0.5"/>
<rect x="176.10" y="752.36" width="4.60" height="4.60" fill="#111" stroke="#111" stroke-width="0.5"/>
<rect x="176.10" y="778.74" width="4.60" height="4.60" fill="#111" stroke="#111" stroke-width="0.5"/>
<rect x="166.70" y="805.12" width="4.60" height="4.60" fill="#111" stroke="#111" stroke-width="0.5"/>
<rect x="176.10" y="805.12" width="4.60" height="4.60" fill="#111" stroke="#111" stroke-width="0.5"/>
<rect x="185.40" y="805.12" width="4.60" height="4.60" fill="#111" stroke="#111" stroke-width="0.5"/>
<rect x="166.70" y="818.31" width="4.60" height="4.60" fill="#111" stroke="#111" stroke-width="0.5"/>
<rect x="185.40" y="818.31" width="4.60" height="4.60" fill="#111" stroke="#111" stroke-width="0.5"/>
</svg>
</body></html>
